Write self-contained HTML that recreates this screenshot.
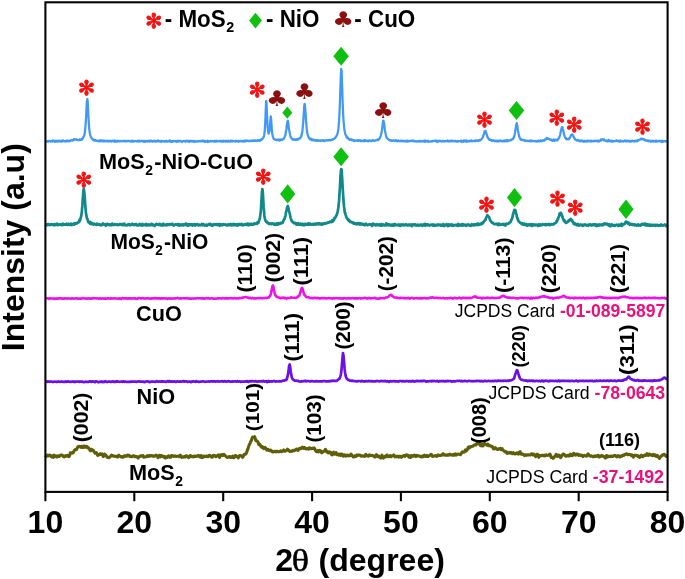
<!DOCTYPE html>
<html lang="en"><head><meta charset="utf-8"><title>XRD patterns</title>
<style>
html,body{margin:0;padding:0;background:#fff;}
svg{display:block;}
text{white-space:pre;}
</style></head>
<body>
<svg width="685" height="579" viewBox="0 0 685 579">
<rect x="0" y="0" width="685" height="579" fill="#ffffff"/>
<path d="M45.4,140.6 L45.8,141.3 L46.1,141.1 L46.5,141.0 L46.8,141.4 L47.2,141.1 L47.5,141.1 L47.9,141.7 L48.2,140.8 L48.6,141.0 L49.0,141.3 L49.3,141.2 L49.7,141.0 L50.0,141.2 L50.4,141.2 L50.7,141.6 L51.1,141.0 L51.4,141.1 L51.8,141.1 L52.2,141.6 L52.5,140.6 L52.9,141.1 L53.2,141.2 L53.6,140.5 L53.9,141.1 L54.3,141.6 L54.6,141.2 L55.0,141.8 L55.4,140.8 L55.7,141.2 L56.1,141.3 L56.4,140.8 L56.8,141.6 L57.1,140.9 L57.5,141.7 L57.8,141.3 L58.2,141.5 L58.6,140.7 L58.9,140.6 L59.3,141.2 L59.6,140.8 L60.0,141.1 L60.3,140.9 L60.7,141.3 L61.0,141.6 L61.4,141.6 L61.8,141.0 L62.1,140.4 L62.5,141.0 L62.8,141.2 L63.2,140.5 L63.5,141.0 L63.9,141.0 L64.2,141.0 L64.6,141.1 L65.0,141.1 L65.3,141.5 L65.7,140.9 L66.0,141.0 L66.4,140.6 L66.7,141.1 L67.1,141.5 L67.4,141.0 L67.8,140.4 L68.2,141.0 L68.5,141.2 L68.9,141.3 L69.2,141.2 L69.6,140.9 L69.9,141.2 L70.3,140.3 L70.6,140.8 L71.0,140.6 L71.4,140.2 L71.7,140.1 L72.1,140.5 L72.4,140.2 L72.8,139.9 L73.1,140.0 L73.5,140.3 L73.8,139.3 L74.2,139.1 L74.6,139.1 L74.9,139.5 L75.3,139.3 L75.6,139.6 L76.0,139.7 L76.3,139.3 L76.7,139.4 L77.0,139.8 L77.4,139.9 L77.8,139.9 L78.1,140.1 L78.5,140.2 L78.8,140.3 L79.2,140.1 L79.5,139.3 L79.9,139.7 L80.2,140.0 L80.6,139.9 L81.0,139.9 L81.3,139.3 L81.7,139.1 L82.0,139.5 L82.4,138.6 L82.7,138.5 L83.1,137.5 L83.4,137.3 L83.8,136.1 L84.2,135.7 L84.5,134.2 L84.9,132.0 L85.2,128.9 L85.6,125.0 L85.9,120.1 L86.3,113.0 L86.6,105.8 L87.0,100.3 L87.4,99.0 L87.7,102.1 L88.1,109.5 L88.4,116.8 L88.8,122.4 L89.1,127.3 L89.5,130.8 L89.8,133.0 L90.2,134.8 L90.6,136.1 L90.9,136.8 L91.3,137.6 L91.6,138.4 L92.0,138.7 L92.3,139.1 L92.7,139.1 L93.0,139.8 L93.4,140.2 L93.8,139.8 L94.1,140.3 L94.5,140.6 L94.8,140.0 L95.2,140.4 L95.5,140.2 L95.9,140.5 L96.2,140.8 L96.6,140.9 L97.0,140.7 L97.3,140.7 L97.7,140.9 L98.0,140.7 L98.4,141.2 L98.7,140.7 L99.1,141.3 L99.4,140.8 L99.8,140.6 L100.2,140.5 L100.5,140.3 L100.9,141.3 L101.2,140.6 L101.6,140.5 L101.9,140.6 L102.3,141.2 L102.6,140.8 L103.0,140.4 L103.4,141.4 L103.7,140.8 L104.1,140.6 L104.4,141.2 L104.8,140.8 L105.1,141.3 L105.5,141.2 L105.8,141.3 L106.2,141.0 L106.6,141.1 L106.9,140.7 L107.3,141.3 L107.6,141.1 L108.0,140.8 L108.3,140.9 L108.7,141.5 L109.0,140.9 L109.4,141.2 L109.8,140.9 L110.1,141.0 L110.5,140.7 L110.8,141.0 L111.2,141.6 L111.5,141.5 L111.9,140.9 L112.2,141.2 L112.6,140.7 L113.0,141.0 L113.3,141.3 L113.7,140.8 L114.0,141.3 L114.4,141.7 L114.7,140.5 L115.1,141.7 L115.4,140.9 L115.8,140.8 L116.2,141.1 L116.5,141.6 L116.9,140.8 L117.2,141.6 L117.6,141.5 L117.9,141.2 L118.3,140.9 L118.6,141.0 L119.0,140.9 L119.4,141.3 L119.7,141.2 L120.1,141.5 L120.4,141.2 L120.8,141.0 L121.1,141.2 L121.5,141.0 L121.8,141.3 L122.2,141.3 L122.6,141.1 L122.9,141.2 L123.3,141.0 L123.6,141.1 L124.0,140.6 L124.3,141.2 L124.7,141.2 L125.0,141.5 L125.4,141.1 L125.8,140.9 L126.1,141.4 L126.5,141.2 L126.8,140.9 L127.2,141.2 L127.5,141.3 L127.9,140.9 L128.2,141.1 L128.6,141.0 L129.0,140.8 L129.3,140.8 L129.7,141.3 L130.0,141.3 L130.4,141.1 L130.7,141.2 L131.1,141.7 L131.4,140.8 L131.8,141.2 L132.2,140.9 L132.5,141.5 L132.9,140.8 L133.2,141.3 L133.6,141.2 L133.9,141.6 L134.3,141.2 L134.6,141.2 L135.0,141.2 L135.4,141.0 L135.7,141.1 L136.1,140.9 L136.4,141.3 L136.8,141.5 L137.1,141.2 L137.5,141.0 L137.8,140.8 L138.2,140.9 L138.6,141.7 L138.9,141.0 L139.3,140.7 L139.6,141.1 L140.0,141.3 L140.3,141.1 L140.7,141.3 L141.0,141.0 L141.4,141.2 L141.8,140.7 L142.1,141.0 L142.5,141.4 L142.8,141.0 L143.2,140.9 L143.5,141.3 L143.9,141.3 L144.2,141.9 L144.6,140.9 L145.0,141.3 L145.3,141.8 L145.7,141.7 L146.0,141.2 L146.4,140.9 L146.7,141.2 L147.1,141.0 L147.4,141.5 L147.8,141.6 L148.2,140.9 L148.5,141.0 L148.9,141.2 L149.2,140.8 L149.6,141.5 L149.9,141.3 L150.3,140.9 L150.6,140.6 L151.0,141.2 L151.4,140.7 L151.7,141.4 L152.1,141.1 L152.4,141.2 L152.8,141.7 L153.1,141.1 L153.5,140.9 L153.8,141.2 L154.2,141.2 L154.6,140.7 L154.9,141.6 L155.3,141.6 L155.6,141.4 L156.0,141.5 L156.3,140.8 L156.7,141.1 L157.0,141.4 L157.4,141.4 L157.8,140.3 L158.1,141.4 L158.5,141.4 L158.8,141.1 L159.2,141.0 L159.5,141.1 L159.9,141.4 L160.2,141.5 L160.6,141.0 L161.0,141.2 L161.3,141.7 L161.7,140.8 L162.0,140.9 L162.4,141.2 L162.7,141.3 L163.1,141.1 L163.4,141.4 L163.8,141.6 L164.2,141.1 L164.5,141.6 L164.9,141.1 L165.2,141.6 L165.6,141.2 L165.9,141.2 L166.3,140.6 L166.6,141.5 L167.0,141.6 L167.4,141.4 L167.7,141.5 L168.1,141.4 L168.4,141.0 L168.8,140.9 L169.1,140.7 L169.5,141.4 L169.8,140.4 L170.2,140.6 L170.6,141.2 L170.9,141.9 L171.3,141.2 L171.6,141.2 L172.0,141.9 L172.3,141.2 L172.7,141.2 L173.0,141.4 L173.4,141.0 L173.8,140.9 L174.1,141.3 L174.5,141.1 L174.8,141.4 L175.2,141.4 L175.5,141.1 L175.9,141.0 L176.2,141.3 L176.6,141.8 L177.0,141.0 L177.3,141.7 L177.7,141.1 L178.0,140.6 L178.4,141.2 L178.7,141.5 L179.1,141.6 L179.4,140.8 L179.8,141.2 L180.2,141.0 L180.5,140.9 L180.9,141.2 L181.2,141.3 L181.6,141.5 L181.9,142.1 L182.3,141.6 L182.6,141.2 L183.0,141.2 L183.4,141.0 L183.7,141.2 L184.1,141.1 L184.4,140.9 L184.8,141.4 L185.1,141.3 L185.5,141.7 L185.8,140.9 L186.2,141.2 L186.6,141.0 L186.9,140.7 L187.3,140.8 L187.6,141.2 L188.0,140.9 L188.3,141.6 L188.7,141.0 L189.0,141.1 L189.4,141.7 L189.8,140.8 L190.1,141.4 L190.5,141.0 L190.8,141.3 L191.2,140.9 L191.5,140.8 L191.9,141.4 L192.2,141.6 L192.6,141.2 L193.0,140.9 L193.3,141.3 L193.7,141.4 L194.0,141.0 L194.4,142.0 L194.7,141.4 L195.1,141.6 L195.4,141.1 L195.8,141.4 L196.2,141.5 L196.5,141.3 L196.9,141.6 L197.2,141.2 L197.6,141.4 L197.9,141.3 L198.3,141.4 L198.6,140.9 L199.0,141.2 L199.4,141.0 L199.7,141.0 L200.1,141.4 L200.4,141.0 L200.8,141.1 L201.1,141.1 L201.5,141.3 L201.8,141.3 L202.2,140.9 L202.5,140.5 L202.9,141.4 L203.3,141.0 L203.6,141.3 L204.0,140.9 L204.3,141.0 L204.7,140.8 L205.0,142.0 L205.4,141.3 L205.7,141.5 L206.1,141.2 L206.5,141.4 L206.8,141.4 L207.2,141.0 L207.5,140.6 L207.9,142.0 L208.2,141.3 L208.6,141.1 L208.9,141.2 L209.3,141.3 L209.7,141.6 L210.0,141.4 L210.4,140.9 L210.7,140.8 L211.1,141.1 L211.4,141.4 L211.8,141.1 L212.1,141.2 L212.5,141.0 L212.9,141.1 L213.2,141.3 L213.6,141.1 L213.9,141.5 L214.3,140.9 L214.6,140.8 L215.0,141.5 L215.3,141.0 L215.7,141.5 L216.1,140.8 L216.4,140.9 L216.8,141.2 L217.1,140.8 L217.5,141.3 L217.8,141.3 L218.2,141.3 L218.5,141.2 L218.9,141.2 L219.3,141.1 L219.6,141.3 L220.0,140.9 L220.3,140.8 L220.7,141.3 L221.0,141.6 L221.4,140.9 L221.7,140.8 L222.1,141.2 L222.5,141.5 L222.8,141.1 L223.2,140.7 L223.5,141.7 L223.9,141.0 L224.2,141.2 L224.6,141.4 L224.9,141.0 L225.3,141.5 L225.7,141.0 L226.0,140.7 L226.4,141.1 L226.7,141.4 L227.1,141.7 L227.4,141.5 L227.8,141.7 L228.1,140.6 L228.5,141.2 L228.9,141.4 L229.2,141.5 L229.6,141.5 L229.9,141.2 L230.3,141.5 L230.6,140.6 L231.0,141.4 L231.3,141.4 L231.7,141.0 L232.1,140.7 L232.4,140.7 L232.8,141.3 L233.1,141.0 L233.5,141.1 L233.8,141.0 L234.2,141.0 L234.5,141.4 L234.9,141.5 L235.3,141.1 L235.6,141.5 L236.0,140.7 L236.3,141.1 L236.7,141.4 L237.0,141.2 L237.4,141.3 L237.7,141.1 L238.1,140.8 L238.5,141.5 L238.8,141.7 L239.2,141.0 L239.5,141.1 L239.9,141.0 L240.2,141.0 L240.6,141.1 L240.9,140.8 L241.3,141.4 L241.7,141.1 L242.0,141.3 L242.4,141.4 L242.7,140.9 L243.1,140.9 L243.4,141.7 L243.8,141.4 L244.1,141.0 L244.5,140.7 L244.9,141.3 L245.2,141.1 L245.6,141.5 L245.9,140.3 L246.3,140.9 L246.6,140.8 L247.0,140.8 L247.3,140.7 L247.7,140.8 L248.1,141.1 L248.4,140.8 L248.8,141.0 L249.1,140.6 L249.5,141.2 L249.8,141.1 L250.2,140.8 L250.5,140.6 L250.9,140.9 L251.3,141.2 L251.6,141.0 L252.0,141.1 L252.3,140.3 L252.7,140.6 L253.0,140.5 L253.4,140.8 L253.7,141.0 L254.1,140.5 L254.5,140.3 L254.8,140.7 L255.2,140.8 L255.5,140.5 L255.9,140.9 L256.2,140.5 L256.6,140.9 L256.9,141.0 L257.3,140.5 L257.7,140.5 L258.0,140.0 L258.4,140.6 L258.7,140.5 L259.1,140.8 L259.4,140.9 L259.8,140.8 L260.1,140.0 L260.5,140.4 L260.9,139.6 L261.2,139.4 L261.6,139.7 L261.9,138.9 L262.3,139.1 L262.6,138.4 L263.0,138.4 L263.3,137.4 L263.7,137.1 L264.1,135.3 L264.4,133.6 L264.8,130.1 L265.1,124.6 L265.5,116.9 L265.8,107.6 L266.2,100.9 L266.5,103.1 L266.9,112.2 L267.3,120.2 L267.6,126.4 L268.0,130.7 L268.3,132.4 L268.7,133.7 L269.0,132.5 L269.4,131.6 L269.7,128.6 L270.1,123.7 L270.5,119.1 L270.8,116.4 L271.2,119.7 L271.5,125.1 L271.9,130.3 L272.2,133.4 L272.6,135.3 L272.9,137.0 L273.3,137.6 L273.7,138.8 L274.0,139.1 L274.4,139.3 L274.7,139.2 L275.1,139.5 L275.4,139.7 L275.8,139.6 L276.1,140.0 L276.5,140.0 L276.9,139.6 L277.2,140.2 L277.6,140.0 L277.9,139.6 L278.3,140.1 L278.6,139.9 L279.0,140.3 L279.3,139.5 L279.7,140.7 L280.1,140.4 L280.4,140.3 L280.8,139.4 L281.1,139.7 L281.5,139.8 L281.8,140.1 L282.2,139.4 L282.5,139.3 L282.9,139.4 L283.3,139.4 L283.6,139.0 L284.0,138.2 L284.3,137.6 L284.7,137.0 L285.0,136.0 L285.4,135.2 L285.7,133.0 L286.1,131.1 L286.5,128.2 L286.8,125.2 L287.2,122.9 L287.5,121.3 L287.9,120.7 L288.2,122.6 L288.6,125.5 L288.9,129.1 L289.3,130.8 L289.7,132.7 L290.0,134.3 L290.4,136.1 L290.7,137.1 L291.1,137.7 L291.4,137.9 L291.8,138.9 L292.1,138.8 L292.5,139.3 L292.9,139.1 L293.2,139.8 L293.6,139.3 L293.9,139.7 L294.3,139.6 L294.6,139.5 L295.0,139.3 L295.3,140.2 L295.7,139.4 L296.1,139.5 L296.4,139.7 L296.8,139.2 L297.1,139.5 L297.5,139.1 L297.8,139.5 L298.2,139.5 L298.5,138.7 L298.9,138.3 L299.3,138.5 L299.6,138.2 L300.0,138.3 L300.3,138.1 L300.7,137.3 L301.0,136.1 L301.4,136.2 L301.7,134.5 L302.1,133.2 L302.5,130.1 L302.8,126.6 L303.2,123.0 L303.5,117.5 L303.9,111.2 L304.2,106.3 L304.6,103.8 L304.9,104.8 L305.3,109.4 L305.7,114.3 L306.0,120.4 L306.4,124.6 L306.7,128.4 L307.1,131.7 L307.4,133.8 L307.8,134.9 L308.1,136.1 L308.5,136.9 L308.9,138.1 L309.2,137.8 L309.6,138.7 L309.9,139.4 L310.3,139.2 L310.6,139.1 L311.0,138.8 L311.3,139.7 L311.7,140.1 L312.1,139.2 L312.4,139.8 L312.8,140.1 L313.1,140.4 L313.5,140.4 L313.8,139.7 L314.2,140.3 L314.5,140.4 L314.9,140.5 L315.3,139.9 L315.6,140.6 L316.0,140.2 L316.3,140.4 L316.7,140.4 L317.0,140.8 L317.4,140.3 L317.7,140.0 L318.1,140.5 L318.5,140.8 L318.8,140.9 L319.2,140.5 L319.5,140.7 L319.9,140.6 L320.2,140.6 L320.6,141.0 L320.9,140.3 L321.3,140.5 L321.7,140.6 L322.0,140.5 L322.4,140.3 L322.7,140.6 L323.1,140.8 L323.4,140.2 L323.8,140.7 L324.1,140.8 L324.5,141.0 L324.9,140.5 L325.2,140.8 L325.6,140.6 L325.9,140.3 L326.3,140.4 L326.6,140.1 L327.0,140.3 L327.3,140.5 L327.7,140.4 L328.1,140.5 L328.4,140.1 L328.8,140.2 L329.1,140.3 L329.5,139.9 L329.8,140.1 L330.2,140.2 L330.5,140.4 L330.9,139.8 L331.3,139.8 L331.6,139.7 L332.0,139.8 L332.3,139.8 L332.7,139.5 L333.0,139.2 L333.4,139.2 L333.7,139.0 L334.1,138.9 L334.5,138.4 L334.8,138.2 L335.2,138.1 L335.5,137.3 L335.9,136.9 L336.2,136.3 L336.6,136.0 L336.9,135.2 L337.3,134.4 L337.7,132.5 L338.0,131.6 L338.4,128.6 L338.7,125.2 L339.1,120.2 L339.4,114.1 L339.8,106.2 L340.1,96.2 L340.5,84.7 L340.9,74.3 L341.2,68.8 L341.6,70.8 L341.9,79.3 L342.3,90.2 L342.6,100.7 L343.0,110.6 L343.3,117.5 L343.7,122.5 L344.1,126.8 L344.4,130.0 L344.8,131.7 L345.1,133.7 L345.5,134.6 L345.8,135.1 L346.2,135.7 L346.5,137.4 L346.9,137.1 L347.3,137.2 L347.6,138.3 L348.0,138.3 L348.3,138.2 L348.7,139.0 L349.0,138.9 L349.4,139.3 L349.7,140.0 L350.1,139.4 L350.5,139.7 L350.8,139.5 L351.2,139.2 L351.5,139.7 L351.9,140.1 L352.2,139.9 L352.6,140.1 L352.9,139.9 L353.3,140.7 L353.7,140.6 L354.0,141.0 L354.4,140.2 L354.7,140.4 L355.1,140.6 L355.4,140.7 L355.8,140.7 L356.1,140.8 L356.5,140.7 L356.9,140.7 L357.2,140.2 L357.6,140.5 L357.9,140.9 L358.3,140.8 L358.6,140.3 L359.0,140.6 L359.3,140.6 L359.7,140.5 L360.1,140.2 L360.4,141.1 L360.8,141.0 L361.1,141.3 L361.5,140.6 L361.8,140.9 L362.2,141.0 L362.5,141.0 L362.9,140.6 L363.3,140.8 L363.6,141.0 L364.0,140.4 L364.3,141.1 L364.7,141.2 L365.0,140.0 L365.4,140.9 L365.7,141.0 L366.1,141.0 L366.5,140.9 L366.8,140.6 L367.2,140.6 L367.5,140.7 L367.9,140.9 L368.2,141.3 L368.6,140.7 L368.9,140.3 L369.3,140.5 L369.7,140.8 L370.0,140.5 L370.4,140.9 L370.7,140.8 L371.1,141.1 L371.4,140.8 L371.8,140.7 L372.1,140.8 L372.5,140.5 L372.9,140.1 L373.2,140.3 L373.6,140.7 L373.9,140.8 L374.3,140.8 L374.6,140.8 L375.0,140.5 L375.3,140.3 L375.7,140.3 L376.1,140.3 L376.4,140.2 L376.8,140.2 L377.1,140.3 L377.5,139.4 L377.8,139.5 L378.2,140.0 L378.5,139.8 L378.9,139.4 L379.3,138.9 L379.6,138.2 L380.0,137.7 L380.3,137.0 L380.7,136.1 L381.0,134.8 L381.4,133.3 L381.7,131.3 L382.1,128.9 L382.5,126.5 L382.8,123.2 L383.2,120.6 L383.5,120.8 L383.9,122.2 L384.2,124.2 L384.6,127.4 L384.9,130.4 L385.3,132.1 L385.7,134.2 L386.0,135.6 L386.4,137.1 L386.7,137.6 L387.1,138.2 L387.4,138.6 L387.8,138.8 L388.1,139.1 L388.5,139.6 L388.9,139.6 L389.2,140.3 L389.6,139.9 L389.9,140.0 L390.3,140.4 L390.6,140.6 L391.0,140.4 L391.3,140.8 L391.7,140.4 L392.1,140.5 L392.4,140.9 L392.8,140.6 L393.1,140.4 L393.5,140.4 L393.8,140.4 L394.2,140.8 L394.5,140.9 L394.9,140.9 L395.3,140.7 L395.6,140.1 L396.0,140.4 L396.3,140.4 L396.7,140.5 L397.0,141.4 L397.4,141.0 L397.7,141.1 L398.1,140.6 L398.5,140.4 L398.8,141.2 L399.2,141.0 L399.5,140.8 L399.9,141.1 L400.2,141.2 L400.6,141.2 L400.9,140.7 L401.3,141.3 L401.7,140.7 L402.0,141.0 L402.4,140.8 L402.7,140.6 L403.1,141.2 L403.4,141.3 L403.8,140.9 L404.1,141.4 L404.5,141.3 L404.9,141.1 L405.2,141.0 L405.6,141.4 L405.9,141.2 L406.3,140.9 L406.6,140.7 L407.0,141.7 L407.3,140.7 L407.7,140.8 L408.1,141.4 L408.4,141.5 L408.8,141.0 L409.1,141.2 L409.5,141.0 L409.8,140.8 L410.2,141.2 L410.5,141.0 L410.9,141.0 L411.3,140.8 L411.6,140.6 L412.0,140.6 L412.3,141.0 L412.7,141.2 L413.0,140.4 L413.4,140.9 L413.7,141.0 L414.1,141.4 L414.5,140.9 L414.8,141.3 L415.2,141.2 L415.5,141.5 L415.9,141.3 L416.2,141.1 L416.6,141.6 L416.9,141.4 L417.3,141.1 L417.7,141.5 L418.0,141.5 L418.4,141.4 L418.7,141.5 L419.1,140.9 L419.4,141.4 L419.8,140.9 L420.1,140.8 L420.5,141.5 L420.9,141.1 L421.2,141.3 L421.6,141.5 L421.9,141.2 L422.3,141.2 L422.6,140.9 L423.0,140.8 L423.3,141.5 L423.7,141.3 L424.1,141.0 L424.4,140.8 L424.8,141.9 L425.1,140.7 L425.5,141.2 L425.8,140.7 L426.2,141.3 L426.5,141.4 L426.9,141.1 L427.3,140.8 L427.6,141.1 L428.0,141.8 L428.3,140.9 L428.7,141.6 L429.0,141.4 L429.4,141.5 L429.7,141.7 L430.1,141.5 L430.5,141.4 L430.8,141.3 L431.2,141.2 L431.5,141.2 L431.9,141.6 L432.2,141.2 L432.6,140.8 L432.9,140.9 L433.3,141.1 L433.7,141.0 L434.0,140.9 L434.4,140.7 L434.7,140.6 L435.1,141.2 L435.4,141.2 L435.8,140.7 L436.1,140.7 L436.5,140.7 L436.9,141.9 L437.2,141.2 L437.6,142.1 L437.9,140.9 L438.3,141.1 L438.6,141.1 L439.0,141.2 L439.3,140.7 L439.7,141.2 L440.1,140.8 L440.4,141.0 L440.8,141.0 L441.1,141.0 L441.5,141.1 L441.8,141.5 L442.2,140.9 L442.5,140.9 L442.9,141.2 L443.3,140.9 L443.6,140.9 L444.0,141.5 L444.3,141.2 L444.7,141.3 L445.0,141.4 L445.4,141.0 L445.7,141.4 L446.1,141.3 L446.5,141.1 L446.8,141.0 L447.2,141.0 L447.5,140.5 L447.9,141.3 L448.2,141.1 L448.6,141.5 L448.9,141.0 L449.3,140.8 L449.7,140.8 L450.0,141.3 L450.4,141.2 L450.7,140.8 L451.1,141.2 L451.4,140.8 L451.8,141.4 L452.1,140.7 L452.5,140.8 L452.9,141.0 L453.2,141.4 L453.6,141.2 L453.9,141.1 L454.3,141.0 L454.6,141.2 L455.0,141.2 L455.3,141.1 L455.7,140.7 L456.1,141.7 L456.4,141.5 L456.8,141.6 L457.1,141.3 L457.5,141.6 L457.8,141.0 L458.2,141.1 L458.5,141.2 L458.9,141.3 L459.3,141.1 L459.6,141.1 L460.0,141.0 L460.3,141.3 L460.7,140.9 L461.0,141.6 L461.4,140.7 L461.7,142.0 L462.1,141.3 L462.5,141.5 L462.8,140.9 L463.2,141.5 L463.5,140.5 L463.9,141.6 L464.2,140.5 L464.6,141.0 L464.9,141.1 L465.3,141.0 L465.7,140.4 L466.0,140.8 L466.4,141.8 L466.7,140.7 L467.1,141.0 L467.4,141.6 L467.8,140.8 L468.1,141.4 L468.5,141.0 L468.9,141.0 L469.2,141.2 L469.6,140.8 L469.9,141.3 L470.3,141.0 L470.6,141.2 L471.0,141.1 L471.3,140.4 L471.7,141.0 L472.1,141.3 L472.4,141.0 L472.8,141.2 L473.1,140.9 L473.5,140.9 L473.8,140.9 L474.2,140.9 L474.5,141.1 L474.9,140.7 L475.3,140.5 L475.6,141.0 L476.0,140.8 L476.3,140.8 L476.7,140.4 L477.0,140.4 L477.4,140.9 L477.7,140.6 L478.1,141.0 L478.5,140.8 L478.8,140.5 L479.2,140.2 L479.5,140.0 L479.9,140.3 L480.2,140.5 L480.6,139.8 L480.9,139.8 L481.3,139.3 L481.7,139.1 L482.0,138.5 L482.4,137.9 L482.7,137.2 L483.1,136.8 L483.4,135.3 L483.8,134.6 L484.1,133.2 L484.5,131.5 L484.9,131.1 L485.2,131.3 L485.6,130.8 L485.9,131.8 L486.3,132.9 L486.6,134.4 L487.0,135.5 L487.3,136.7 L487.7,137.7 L488.1,137.7 L488.4,138.8 L488.8,139.2 L489.1,139.6 L489.5,139.1 L489.8,139.6 L490.2,140.2 L490.5,140.2 L490.9,140.1 L491.3,140.1 L491.6,140.9 L492.0,140.2 L492.3,140.6 L492.7,140.8 L493.0,140.8 L493.4,140.4 L493.7,140.2 L494.1,140.7 L494.5,140.6 L494.8,141.0 L495.2,140.7 L495.5,140.6 L495.9,141.3 L496.2,141.0 L496.6,140.6 L496.9,141.4 L497.3,141.0 L497.7,140.7 L498.0,141.4 L498.4,141.0 L498.7,140.9 L499.1,140.6 L499.4,141.3 L499.8,140.6 L500.1,140.8 L500.5,140.5 L500.9,140.6 L501.2,140.8 L501.6,140.8 L501.9,141.4 L502.3,141.3 L502.6,141.2 L503.0,141.0 L503.3,140.6 L503.7,141.4 L504.1,141.0 L504.4,141.2 L504.8,141.3 L505.1,140.4 L505.5,140.8 L505.8,140.3 L506.2,140.4 L506.5,141.0 L506.9,141.3 L507.3,140.1 L507.6,140.8 L508.0,141.0 L508.3,140.4 L508.7,140.5 L509.0,140.7 L509.4,140.6 L509.7,140.3 L510.1,140.3 L510.5,140.0 L510.8,140.2 L511.2,140.1 L511.5,139.7 L511.9,139.6 L512.2,139.1 L512.6,139.3 L512.9,138.9 L513.3,138.7 L513.6,137.3 L514.0,137.3 L514.4,135.6 L514.7,134.5 L515.1,132.2 L515.4,129.7 L515.8,127.9 L516.1,125.2 L516.5,124.2 L516.8,123.2 L517.2,125.2 L517.6,127.9 L517.9,130.2 L518.3,131.9 L518.6,133.7 L519.0,135.3 L519.3,137.1 L519.7,137.8 L520.0,137.9 L520.4,139.1 L520.8,139.3 L521.1,139.8 L521.5,140.1 L521.8,139.5 L522.2,139.8 L522.5,140.0 L522.9,140.1 L523.2,140.0 L523.6,139.9 L524.0,140.5 L524.3,140.6 L524.7,140.9 L525.0,140.3 L525.4,140.8 L525.7,141.1 L526.1,140.8 L526.4,140.7 L526.8,140.5 L527.2,140.5 L527.5,141.0 L527.9,141.1 L528.2,140.9 L528.6,141.2 L528.9,140.9 L529.3,140.7 L529.6,140.9 L530.0,141.4 L530.4,141.3 L530.7,140.5 L531.1,141.2 L531.4,140.7 L531.8,140.7 L532.1,141.0 L532.5,141.2 L532.8,140.9 L533.2,141.2 L533.6,141.0 L533.9,140.9 L534.3,141.2 L534.6,141.0 L535.0,141.0 L535.3,141.3 L535.7,141.0 L536.0,141.1 L536.4,141.5 L536.8,141.0 L537.1,141.0 L537.5,141.1 L537.8,141.5 L538.2,140.7 L538.5,140.7 L538.9,140.7 L539.2,140.8 L539.6,141.3 L540.0,140.8 L540.3,141.1 L540.7,140.2 L541.0,141.0 L541.4,140.6 L541.7,141.2 L542.1,141.1 L542.4,140.8 L542.8,140.4 L543.2,140.4 L543.5,140.4 L543.9,140.9 L544.2,139.9 L544.6,140.4 L544.9,139.4 L545.3,139.2 L545.6,139.2 L546.0,138.9 L546.4,139.3 L546.7,137.9 L547.1,138.4 L547.4,138.1 L547.8,138.6 L548.1,138.5 L548.5,139.0 L548.8,139.0 L549.2,139.2 L549.6,139.3 L549.9,139.2 L550.3,139.7 L550.6,139.9 L551.0,140.1 L551.3,139.6 L551.7,140.4 L552.0,140.0 L552.4,140.9 L552.8,140.6 L553.1,140.3 L553.5,140.4 L553.8,139.5 L554.2,139.6 L554.5,140.8 L554.9,140.6 L555.2,140.3 L555.6,139.6 L556.0,139.7 L556.3,139.9 L556.7,140.3 L557.0,140.0 L557.4,140.4 L557.7,139.8 L558.1,138.9 L558.4,138.5 L558.8,138.6 L559.2,137.6 L559.5,136.3 L559.9,135.7 L560.2,134.5 L560.6,132.6 L560.9,130.9 L561.3,129.2 L561.6,127.9 L562.0,127.1 L562.4,127.2 L562.7,128.5 L563.1,129.7 L563.4,131.6 L563.8,133.2 L564.1,134.4 L564.5,135.6 L564.8,136.6 L565.2,137.6 L565.6,138.3 L565.9,137.9 L566.3,139.1 L566.6,139.2 L567.0,139.4 L567.3,139.2 L567.7,139.1 L568.0,138.9 L568.4,139.1 L568.8,139.4 L569.1,138.5 L569.5,138.0 L569.8,137.8 L570.2,137.3 L570.5,136.4 L570.9,135.4 L571.2,135.1 L571.6,134.9 L572.0,134.4 L572.3,134.4 L572.7,135.4 L573.0,135.3 L573.4,136.6 L573.7,137.0 L574.1,137.8 L574.4,138.5 L574.8,138.4 L575.2,139.5 L575.5,139.8 L575.9,139.7 L576.2,139.8 L576.6,140.2 L576.9,140.6 L577.3,140.2 L577.6,140.3 L578.0,139.9 L578.4,140.6 L578.7,140.6 L579.1,140.8 L579.4,141.2 L579.8,140.7 L580.1,140.5 L580.5,141.1 L580.8,141.0 L581.2,141.2 L581.6,140.5 L581.9,141.1 L582.3,140.7 L582.6,141.2 L583.0,140.9 L583.3,141.1 L583.7,141.7 L584.0,140.9 L584.4,140.8 L584.8,141.6 L585.1,141.0 L585.5,141.1 L585.8,141.3 L586.2,141.1 L586.5,141.6 L586.9,140.9 L587.2,140.6 L587.6,141.4 L588.0,141.0 L588.3,140.6 L588.7,141.0 L589.0,141.2 L589.4,141.3 L589.7,141.0 L590.1,141.1 L590.4,140.8 L590.8,141.5 L591.2,140.7 L591.5,141.2 L591.9,140.8 L592.2,141.3 L592.6,141.4 L592.9,141.2 L593.3,141.3 L593.6,141.1 L594.0,140.8 L594.4,140.7 L594.7,141.0 L595.1,141.2 L595.4,141.1 L595.8,140.8 L596.1,140.6 L596.5,141.1 L596.8,141.0 L597.2,141.2 L597.6,140.8 L597.9,140.6 L598.3,141.7 L598.6,140.7 L599.0,140.9 L599.3,141.4 L599.7,140.5 L600.0,140.5 L600.4,140.2 L600.8,140.6 L601.1,139.4 L601.5,139.9 L601.8,139.8 L602.2,139.2 L602.5,139.3 L602.9,139.3 L603.2,139.3 L603.6,140.4 L604.0,139.4 L604.3,140.2 L604.7,140.1 L605.0,140.1 L605.4,140.7 L605.7,140.5 L606.1,140.5 L606.4,140.8 L606.8,140.7 L607.2,141.3 L607.5,141.3 L607.9,141.3 L608.2,140.8 L608.6,139.8 L608.9,140.9 L609.3,141.1 L609.6,141.0 L610.0,140.7 L610.4,140.8 L610.7,141.4 L611.1,140.7 L611.4,141.1 L611.8,140.8 L612.1,141.7 L612.5,141.6 L612.8,140.9 L613.2,141.6 L613.6,141.0 L613.9,141.0 L614.3,141.1 L614.6,141.0 L615.0,141.0 L615.3,141.0 L615.7,141.2 L616.0,141.1 L616.4,140.2 L616.8,140.8 L617.1,140.9 L617.5,141.0 L617.8,141.3 L618.2,141.0 L618.5,141.2 L618.9,140.8 L619.2,141.4 L619.6,141.8 L620.0,141.3 L620.3,140.9 L620.7,140.4 L621.0,140.8 L621.4,141.4 L621.7,141.2 L622.1,141.4 L622.4,141.2 L622.8,141.4 L623.2,141.6 L623.5,141.0 L623.9,141.1 L624.2,141.2 L624.6,141.0 L624.9,140.5 L625.3,141.1 L625.6,141.2 L626.0,140.8 L626.4,141.6 L626.7,140.9 L627.1,141.3 L627.4,141.3 L627.8,141.1 L628.1,140.6 L628.5,141.3 L628.8,140.8 L629.2,141.0 L629.6,141.5 L629.9,140.8 L630.3,141.3 L630.6,141.5 L631.0,141.3 L631.3,141.3 L631.7,140.9 L632.0,141.2 L632.4,140.6 L632.8,140.9 L633.1,141.2 L633.5,141.2 L633.8,140.9 L634.2,141.6 L634.5,141.6 L634.9,141.2 L635.2,140.7 L635.6,140.8 L636.0,140.8 L636.3,140.8 L636.7,141.3 L637.0,140.7 L637.4,141.1 L637.7,140.2 L638.1,140.3 L638.4,140.3 L638.8,140.0 L639.2,139.8 L639.5,139.7 L639.9,139.5 L640.2,139.6 L640.6,139.6 L640.9,139.0 L641.3,138.5 L641.6,138.6 L642.0,139.0 L642.4,138.8 L642.7,139.2 L643.1,139.1 L643.4,139.6 L643.8,139.5 L644.1,139.2 L644.5,139.7 L644.8,139.6 L645.2,140.5 L645.6,140.6 L645.9,140.5 L646.3,140.4 L646.6,140.7 L647.0,140.4 L647.3,140.9 L647.7,140.4 L648.0,140.5 L648.4,141.2 L648.8,140.7 L649.1,141.0 L649.5,140.6 L649.8,141.1 L650.2,140.9 L650.5,140.8 L650.9,141.8 L651.2,141.6 L651.6,141.0 L652.0,141.1 L652.3,140.7 L652.7,141.0 L653.0,141.5 L653.4,141.0 L653.7,141.3 L654.1,141.2 L654.4,141.2 L654.8,141.0 L655.2,141.5 L655.5,141.4 L655.9,141.8 L656.2,140.5 L656.6,141.4 L656.9,141.4 L657.3,141.5 L657.6,141.3 L658.0,141.3 L658.4,140.9 L658.7,141.1 L659.1,141.0 L659.4,141.3 L659.8,141.2 L660.1,140.8 L660.5,141.1 L660.8,141.1 L661.2,141.8 L661.6,141.0 L661.9,141.1 L662.3,140.8 L662.6,142.0 L663.0,141.1 L663.3,141.2 L663.7,141.1 L664.0,141.3 L664.4,141.1 L664.8,140.9 L665.1,141.1 L665.5,141.3 L665.8,141.2 L666.2,141.3 L666.5,141.2 L666.9,141.4 L667.2,141.8 L667.6,140.8" fill="none" stroke="#4199f5" stroke-width="2.25" stroke-linejoin="round" stroke-linecap="butt"/>
<path d="M45.4,224.6 L45.8,225.1 L46.1,224.7 L46.5,225.0 L46.8,224.6 L47.2,224.9 L47.5,225.1 L47.9,224.4 L48.2,224.0 L48.6,224.4 L49.0,224.5 L49.3,225.0 L49.7,224.6 L50.0,224.4 L50.4,224.8 L50.7,224.2 L51.1,224.6 L51.4,224.4 L51.8,224.8 L52.2,224.8 L52.5,224.5 L52.9,224.4 L53.2,224.4 L53.6,225.0 L53.9,224.8 L54.3,224.5 L54.6,225.3 L55.0,224.1 L55.4,224.4 L55.7,224.5 L56.1,224.8 L56.4,224.2 L56.8,224.6 L57.1,223.7 L57.5,224.4 L57.8,225.2 L58.2,224.2 L58.6,224.7 L58.9,224.7 L59.3,224.6 L59.6,224.6 L60.0,224.4 L60.3,224.2 L60.7,224.3 L61.0,224.8 L61.4,225.1 L61.8,224.8 L62.1,224.3 L62.5,224.1 L62.8,223.7 L63.2,225.0 L63.5,224.4 L63.9,224.6 L64.2,224.6 L64.6,224.4 L65.0,224.5 L65.3,224.5 L65.7,224.7 L66.0,224.2 L66.4,224.0 L66.7,223.7 L67.1,224.6 L67.4,224.8 L67.8,224.5 L68.2,224.7 L68.5,223.9 L68.9,224.7 L69.2,224.3 L69.6,224.9 L69.9,224.4 L70.3,224.2 L70.6,223.6 L71.0,224.5 L71.4,224.0 L71.7,225.0 L72.1,224.6 L72.4,224.4 L72.8,224.3 L73.1,223.8 L73.5,223.7 L73.8,224.6 L74.2,223.7 L74.6,224.3 L74.9,223.0 L75.3,223.6 L75.6,223.6 L76.0,223.6 L76.3,223.4 L76.7,223.3 L77.0,223.4 L77.4,222.7 L77.8,222.7 L78.1,222.3 L78.5,222.4 L78.8,221.7 L79.2,221.9 L79.5,219.6 L79.9,220.8 L80.2,219.9 L80.6,218.2 L81.0,216.6 L81.3,215.4 L81.7,213.1 L82.0,209.6 L82.4,205.2 L82.7,200.3 L83.1,195.0 L83.4,190.5 L83.8,188.9 L84.2,191.2 L84.5,194.7 L84.9,199.6 L85.2,204.2 L85.6,209.1 L85.9,212.8 L86.3,214.8 L86.6,216.5 L87.0,218.8 L87.4,218.9 L87.7,219.8 L88.1,221.3 L88.4,222.3 L88.8,222.3 L89.1,222.5 L89.5,222.4 L89.8,223.5 L90.2,222.0 L90.6,222.2 L90.9,223.6 L91.3,224.2 L91.6,223.6 L92.0,223.5 L92.3,223.2 L92.7,223.5 L93.0,223.9 L93.4,224.7 L93.8,223.8 L94.1,223.7 L94.5,224.2 L94.8,224.0 L95.2,224.0 L95.5,224.3 L95.9,224.7 L96.2,224.1 L96.6,224.8 L97.0,223.7 L97.3,224.7 L97.7,224.1 L98.0,224.6 L98.4,224.2 L98.7,224.5 L99.1,224.2 L99.4,224.7 L99.8,225.1 L100.2,224.5 L100.5,224.6 L100.9,225.1 L101.2,224.7 L101.6,225.2 L101.9,224.4 L102.3,224.6 L102.6,224.5 L103.0,223.4 L103.4,224.4 L103.7,224.4 L104.1,224.3 L104.4,224.6 L104.8,224.8 L105.1,224.2 L105.5,224.1 L105.8,225.8 L106.2,224.6 L106.6,224.7 L106.9,224.8 L107.3,224.0 L107.6,224.8 L108.0,224.2 L108.3,224.8 L108.7,224.8 L109.0,224.3 L109.4,224.9 L109.8,224.7 L110.1,225.1 L110.5,225.0 L110.8,224.3 L111.2,224.4 L111.5,225.1 L111.9,225.1 L112.2,223.5 L112.6,224.9 L113.0,225.0 L113.3,224.4 L113.7,225.0 L114.0,224.8 L114.4,224.3 L114.7,224.2 L115.1,224.7 L115.4,224.1 L115.8,224.7 L116.2,224.7 L116.5,224.6 L116.9,224.8 L117.2,224.4 L117.6,224.5 L117.9,225.0 L118.3,224.6 L118.6,224.9 L119.0,224.9 L119.4,224.7 L119.7,224.2 L120.1,224.5 L120.4,224.1 L120.8,224.0 L121.1,224.7 L121.5,224.9 L121.8,225.0 L122.2,224.6 L122.6,224.3 L122.9,224.0 L123.3,225.2 L123.6,224.3 L124.0,224.2 L124.3,223.6 L124.7,224.6 L125.0,224.7 L125.4,225.3 L125.8,225.0 L126.1,225.1 L126.5,225.1 L126.8,225.1 L127.2,225.3 L127.5,224.7 L127.9,224.5 L128.2,224.4 L128.6,224.7 L129.0,224.2 L129.3,224.2 L129.7,225.3 L130.0,224.8 L130.4,225.2 L130.7,225.1 L131.1,224.6 L131.4,224.7 L131.8,224.1 L132.2,223.8 L132.5,224.5 L132.9,224.8 L133.2,224.8 L133.6,224.7 L133.9,224.5 L134.3,225.0 L134.6,224.5 L135.0,224.8 L135.4,224.3 L135.7,224.1 L136.1,224.0 L136.4,224.8 L136.8,225.3 L137.1,225.4 L137.5,224.8 L137.8,225.3 L138.2,225.4 L138.6,224.9 L138.9,225.1 L139.3,224.4 L139.6,223.9 L140.0,224.8 L140.3,224.6 L140.7,225.4 L141.0,224.6 L141.4,225.0 L141.8,225.2 L142.1,225.5 L142.5,224.0 L142.8,225.4 L143.2,225.2 L143.5,224.7 L143.9,224.6 L144.2,224.6 L144.6,224.7 L145.0,225.1 L145.3,224.4 L145.7,224.6 L146.0,225.3 L146.4,224.0 L146.7,224.9 L147.1,224.3 L147.4,225.3 L147.8,225.2 L148.2,225.0 L148.5,225.0 L148.9,224.3 L149.2,225.4 L149.6,224.6 L149.9,225.1 L150.3,224.5 L150.6,224.6 L151.0,224.9 L151.4,223.8 L151.7,224.7 L152.1,224.3 L152.4,225.3 L152.8,224.8 L153.1,224.7 L153.5,224.7 L153.8,224.9 L154.2,225.1 L154.6,226.0 L154.9,225.0 L155.3,225.1 L155.6,224.8 L156.0,224.4 L156.3,223.8 L156.7,224.5 L157.0,224.3 L157.4,224.5 L157.8,224.4 L158.1,224.5 L158.5,224.8 L158.8,224.9 L159.2,224.6 L159.5,224.0 L159.9,224.4 L160.2,224.0 L160.6,225.3 L161.0,224.6 L161.3,224.6 L161.7,224.5 L162.0,225.3 L162.4,225.5 L162.7,225.6 L163.1,224.9 L163.4,223.7 L163.8,224.6 L164.2,225.2 L164.5,224.6 L164.9,224.8 L165.2,224.7 L165.6,224.9 L165.9,225.3 L166.3,224.9 L166.6,224.4 L167.0,224.6 L167.4,224.2 L167.7,225.2 L168.1,224.3 L168.4,224.7 L168.8,224.6 L169.1,224.2 L169.5,224.8 L169.8,224.6 L170.2,224.5 L170.6,224.4 L170.9,224.4 L171.3,224.2 L171.6,224.5 L172.0,224.9 L172.3,223.7 L172.7,224.7 L173.0,224.6 L173.4,225.0 L173.8,225.6 L174.1,225.0 L174.5,224.7 L174.8,224.5 L175.2,224.7 L175.5,224.4 L175.9,224.3 L176.2,224.3 L176.6,224.7 L177.0,224.7 L177.3,224.8 L177.7,225.1 L178.0,224.1 L178.4,225.2 L178.7,224.7 L179.1,224.6 L179.4,225.6 L179.8,224.4 L180.2,224.9 L180.5,224.6 L180.9,224.9 L181.2,225.4 L181.6,224.6 L181.9,224.7 L182.3,224.3 L182.6,224.5 L183.0,225.4 L183.4,224.3 L183.7,224.4 L184.1,224.4 L184.4,224.5 L184.8,225.0 L185.1,224.5 L185.5,224.9 L185.8,223.5 L186.2,224.8 L186.6,225.2 L186.9,224.9 L187.3,224.1 L187.6,225.0 L188.0,225.8 L188.3,224.1 L188.7,224.6 L189.0,224.9 L189.4,224.4 L189.8,225.1 L190.1,225.2 L190.5,224.3 L190.8,224.9 L191.2,224.5 L191.5,224.7 L191.9,224.4 L192.2,224.7 L192.6,225.6 L193.0,224.4 L193.3,224.9 L193.7,224.4 L194.0,224.7 L194.4,224.1 L194.7,224.9 L195.1,225.6 L195.4,224.9 L195.8,224.5 L196.2,224.9 L196.5,224.9 L196.9,224.1 L197.2,224.8 L197.6,224.3 L197.9,224.7 L198.3,225.3 L198.6,225.1 L199.0,224.9 L199.4,224.6 L199.7,225.1 L200.1,225.3 L200.4,225.2 L200.8,225.0 L201.1,225.1 L201.5,225.0 L201.8,224.0 L202.2,224.6 L202.5,225.1 L202.9,224.7 L203.3,224.1 L203.6,224.5 L204.0,224.8 L204.3,225.3 L204.7,225.5 L205.0,224.9 L205.4,224.8 L205.7,225.4 L206.1,225.3 L206.5,224.8 L206.8,225.7 L207.2,225.5 L207.5,224.8 L207.9,224.5 L208.2,224.6 L208.6,224.3 L208.9,224.1 L209.3,224.4 L209.7,224.9 L210.0,223.8 L210.4,224.0 L210.7,224.3 L211.1,225.1 L211.4,224.6 L211.8,225.6 L212.1,224.9 L212.5,225.8 L212.9,224.9 L213.2,224.3 L213.6,224.7 L213.9,224.1 L214.3,224.7 L214.6,224.7 L215.0,224.9 L215.3,224.5 L215.7,224.7 L216.1,224.2 L216.4,224.1 L216.8,224.6 L217.1,225.2 L217.5,224.5 L217.8,224.2 L218.2,224.5 L218.5,224.6 L218.9,224.3 L219.3,224.2 L219.6,225.8 L220.0,224.1 L220.3,224.4 L220.7,224.5 L221.0,225.0 L221.4,224.6 L221.7,224.5 L222.1,225.3 L222.5,224.4 L222.8,224.7 L223.2,224.1 L223.5,224.4 L223.9,224.8 L224.2,224.7 L224.6,224.4 L224.9,224.7 L225.3,224.5 L225.7,225.0 L226.0,225.2 L226.4,225.0 L226.7,225.3 L227.1,225.0 L227.4,224.6 L227.8,225.4 L228.1,225.2 L228.5,224.4 L228.9,224.9 L229.2,224.7 L229.6,225.2 L229.9,225.1 L230.3,224.8 L230.6,224.0 L231.0,224.5 L231.3,225.4 L231.7,224.5 L232.1,224.3 L232.4,224.4 L232.8,225.2 L233.1,224.7 L233.5,223.8 L233.8,225.1 L234.2,224.6 L234.5,225.0 L234.9,225.2 L235.3,224.9 L235.6,224.3 L236.0,224.2 L236.3,225.1 L236.7,224.9 L237.0,225.1 L237.4,225.6 L237.7,224.4 L238.1,224.0 L238.5,224.0 L238.8,224.9 L239.2,224.1 L239.5,224.2 L239.9,224.8 L240.2,224.7 L240.6,224.8 L240.9,224.5 L241.3,223.9 L241.7,225.0 L242.0,225.1 L242.4,224.3 L242.7,224.6 L243.1,225.4 L243.4,225.0 L243.8,225.0 L244.1,224.9 L244.5,224.5 L244.9,224.2 L245.2,224.6 L245.6,224.5 L245.9,224.9 L246.3,224.1 L246.6,224.0 L247.0,224.6 L247.3,224.8 L247.7,223.6 L248.1,224.1 L248.4,224.9 L248.8,225.2 L249.1,224.6 L249.5,223.9 L249.8,224.7 L250.2,224.5 L250.5,224.6 L250.9,224.1 L251.3,223.8 L251.6,224.9 L252.0,224.4 L252.3,224.3 L252.7,224.5 L253.0,224.7 L253.4,223.8 L253.7,224.0 L254.1,223.7 L254.5,223.3 L254.8,224.1 L255.2,223.6 L255.5,223.9 L255.9,223.7 L256.2,223.4 L256.6,223.4 L256.9,223.8 L257.3,222.3 L257.7,222.7 L258.0,222.9 L258.4,222.9 L258.7,221.5 L259.1,220.6 L259.4,219.5 L259.8,218.1 L260.1,216.8 L260.5,213.6 L260.9,210.6 L261.2,204.7 L261.6,198.2 L261.9,192.7 L262.3,189.0 L262.6,190.1 L263.0,195.3 L263.3,201.1 L263.7,207.9 L264.1,211.5 L264.4,215.9 L264.8,217.9 L265.1,219.6 L265.5,220.4 L265.8,221.3 L266.2,221.5 L266.5,222.1 L266.9,221.6 L267.3,222.6 L267.6,223.1 L268.0,223.0 L268.3,223.1 L268.7,223.5 L269.0,224.0 L269.4,224.0 L269.7,223.6 L270.1,223.4 L270.5,223.6 L270.8,223.9 L271.2,223.7 L271.5,224.2 L271.9,223.9 L272.2,223.4 L272.6,223.5 L272.9,223.5 L273.3,224.2 L273.7,224.0 L274.0,224.5 L274.4,223.7 L274.7,224.2 L275.1,224.6 L275.4,224.2 L275.8,223.9 L276.1,224.9 L276.5,224.6 L276.9,223.5 L277.2,223.9 L277.6,223.9 L277.9,224.5 L278.3,223.1 L278.6,223.3 L279.0,223.4 L279.3,224.1 L279.7,223.3 L280.1,223.0 L280.4,223.5 L280.8,223.3 L281.1,223.3 L281.5,222.7 L281.8,222.8 L282.2,222.6 L282.5,222.8 L282.9,222.5 L283.3,221.0 L283.6,220.2 L284.0,219.8 L284.3,218.8 L284.7,218.6 L285.0,217.2 L285.4,215.6 L285.7,214.2 L286.1,211.6 L286.5,210.9 L286.8,208.8 L287.2,207.3 L287.5,206.6 L287.9,205.9 L288.2,207.9 L288.6,208.1 L288.9,210.0 L289.3,212.1 L289.7,213.5 L290.0,214.7 L290.4,217.1 L290.7,218.1 L291.1,219.2 L291.4,220.0 L291.8,221.1 L292.1,221.7 L292.5,221.6 L292.9,222.4 L293.2,222.1 L293.6,222.4 L293.9,223.1 L294.3,223.0 L294.6,223.2 L295.0,223.4 L295.3,223.0 L295.7,223.6 L296.1,223.6 L296.4,224.6 L296.8,223.5 L297.1,224.5 L297.5,224.1 L297.8,223.3 L298.2,223.2 L298.5,224.2 L298.9,224.6 L299.3,223.9 L299.6,224.3 L300.0,224.0 L300.3,224.7 L300.7,223.7 L301.0,223.6 L301.4,224.8 L301.7,224.6 L302.1,224.6 L302.5,224.0 L302.8,225.1 L303.2,224.2 L303.5,224.4 L303.9,224.6 L304.2,224.0 L304.6,225.2 L304.9,224.9 L305.3,224.7 L305.7,224.0 L306.0,224.5 L306.4,224.7 L306.7,224.2 L307.1,224.6 L307.4,224.6 L307.8,224.5 L308.1,224.2 L308.5,223.2 L308.9,224.8 L309.2,224.2 L309.6,224.4 L309.9,224.5 L310.3,223.7 L310.6,224.0 L311.0,224.1 L311.3,224.5 L311.7,224.7 L312.1,224.2 L312.4,224.4 L312.8,224.5 L313.1,224.0 L313.5,224.8 L313.8,224.6 L314.2,223.9 L314.5,224.3 L314.9,224.0 L315.3,224.6 L315.6,223.9 L316.0,224.5 L316.3,223.6 L316.7,223.9 L317.0,224.0 L317.4,223.5 L317.7,224.0 L318.1,224.4 L318.5,223.5 L318.8,223.9 L319.2,223.6 L319.5,224.0 L319.9,223.5 L320.2,224.4 L320.6,224.5 L320.9,224.5 L321.3,223.6 L321.7,224.7 L322.0,224.6 L322.4,224.4 L322.7,223.7 L323.1,223.6 L323.4,224.1 L323.8,223.3 L324.1,223.5 L324.5,223.1 L324.9,223.1 L325.2,223.7 L325.6,223.3 L325.9,223.4 L326.3,223.1 L326.6,223.1 L327.0,223.1 L327.3,222.7 L327.7,222.9 L328.1,222.5 L328.4,222.7 L328.8,222.7 L329.1,222.1 L329.5,221.9 L329.8,221.7 L330.2,221.8 L330.5,222.0 L330.9,221.6 L331.3,221.4 L331.6,222.0 L332.0,221.6 L332.3,220.2 L332.7,220.6 L333.0,221.5 L333.4,220.0 L333.7,219.6 L334.1,219.8 L334.5,217.9 L334.8,217.9 L335.2,217.6 L335.5,217.5 L335.9,216.5 L336.2,215.7 L336.6,215.0 L336.9,214.5 L337.3,212.9 L337.7,211.5 L338.0,209.5 L338.4,207.6 L338.7,204.0 L339.1,200.2 L339.4,195.3 L339.8,189.5 L340.1,183.8 L340.5,176.3 L340.9,170.9 L341.2,169.1 L341.6,169.6 L341.9,174.3 L342.3,180.4 L342.6,186.5 L343.0,192.9 L343.3,197.7 L343.7,202.9 L344.1,207.0 L344.4,209.3 L344.8,212.5 L345.1,212.5 L345.5,214.4 L345.8,215.5 L346.2,216.5 L346.5,217.7 L346.9,218.0 L347.3,218.9 L347.6,219.2 L348.0,219.3 L348.3,220.4 L348.7,219.5 L349.0,221.0 L349.4,220.5 L349.7,221.4 L350.1,221.9 L350.5,221.4 L350.8,221.7 L351.2,222.1 L351.5,222.2 L351.9,222.6 L352.2,222.3 L352.6,222.8 L352.9,222.7 L353.3,222.4 L353.7,223.5 L354.0,223.3 L354.4,223.4 L354.7,223.6 L355.1,223.9 L355.4,223.5 L355.8,223.4 L356.1,223.6 L356.5,224.3 L356.9,223.4 L357.2,223.4 L357.6,223.7 L357.9,224.2 L358.3,224.2 L358.6,223.1 L359.0,223.2 L359.3,223.8 L359.7,224.4 L360.1,223.5 L360.4,224.0 L360.8,223.4 L361.1,224.4 L361.5,224.0 L361.8,224.3 L362.2,223.9 L362.5,224.5 L362.9,223.9 L363.3,224.5 L363.6,224.7 L364.0,224.1 L364.3,224.3 L364.7,225.3 L365.0,224.4 L365.4,224.4 L365.7,224.4 L366.1,223.6 L366.5,224.7 L366.8,224.5 L367.2,225.2 L367.5,225.1 L367.9,224.8 L368.2,224.6 L368.6,224.6 L368.9,224.3 L369.3,224.3 L369.7,224.1 L370.0,224.7 L370.4,224.4 L370.7,224.9 L371.1,224.5 L371.4,224.4 L371.8,224.8 L372.1,226.0 L372.5,224.9 L372.9,223.6 L373.2,224.7 L373.6,224.9 L373.9,224.6 L374.3,224.2 L374.6,224.6 L375.0,224.8 L375.3,225.2 L375.7,224.8 L376.1,225.2 L376.4,224.6 L376.8,224.1 L377.1,224.3 L377.5,225.0 L377.8,225.2 L378.2,225.3 L378.5,224.6 L378.9,224.5 L379.3,224.4 L379.6,224.6 L380.0,225.3 L380.3,225.6 L380.7,224.3 L381.0,225.1 L381.4,224.0 L381.7,225.7 L382.1,225.3 L382.5,225.2 L382.8,224.7 L383.2,224.5 L383.5,225.1 L383.9,224.6 L384.2,225.4 L384.6,225.0 L384.9,225.3 L385.3,225.1 L385.7,225.1 L386.0,224.7 L386.4,223.4 L386.7,225.4 L387.1,224.9 L387.4,224.6 L387.8,224.8 L388.1,224.3 L388.5,225.3 L388.9,224.5 L389.2,225.2 L389.6,224.5 L389.9,224.8 L390.3,224.8 L390.6,225.1 L391.0,225.7 L391.3,225.4 L391.7,224.6 L392.1,225.0 L392.4,224.6 L392.8,225.5 L393.1,224.6 L393.5,224.5 L393.8,225.8 L394.2,224.8 L394.5,224.1 L394.9,225.2 L395.3,224.5 L395.6,224.9 L396.0,224.6 L396.3,225.1 L396.7,225.2 L397.0,225.1 L397.4,225.1 L397.7,225.2 L398.1,225.3 L398.5,224.5 L398.8,225.2 L399.2,225.4 L399.5,225.3 L399.9,224.7 L400.2,225.9 L400.6,224.7 L400.9,224.6 L401.3,224.4 L401.7,225.1 L402.0,225.3 L402.4,224.9 L402.7,224.9 L403.1,224.4 L403.4,224.9 L403.8,225.1 L404.1,225.5 L404.5,225.0 L404.9,224.9 L405.2,224.5 L405.6,224.9 L405.9,224.4 L406.3,224.4 L406.6,225.3 L407.0,225.4 L407.3,225.2 L407.7,225.1 L408.1,225.3 L408.4,224.7 L408.8,224.7 L409.1,224.5 L409.5,224.8 L409.8,225.2 L410.2,224.8 L410.5,225.4 L410.9,224.9 L411.3,225.3 L411.6,224.5 L412.0,226.1 L412.3,224.6 L412.7,224.6 L413.0,225.0 L413.4,224.8 L413.7,224.9 L414.1,224.4 L414.5,224.3 L414.8,225.0 L415.2,224.3 L415.5,225.3 L415.9,224.8 L416.2,224.8 L416.6,225.5 L416.9,224.8 L417.3,225.3 L417.7,224.7 L418.0,225.4 L418.4,225.7 L418.7,225.5 L419.1,225.0 L419.4,224.9 L419.8,224.8 L420.1,225.3 L420.5,224.7 L420.9,225.2 L421.2,225.1 L421.6,224.6 L421.9,225.1 L422.3,225.8 L422.6,224.7 L423.0,225.0 L423.3,225.2 L423.7,224.5 L424.1,225.3 L424.4,224.7 L424.8,224.9 L425.1,223.9 L425.5,225.8 L425.8,224.9 L426.2,224.9 L426.5,224.5 L426.9,225.2 L427.3,225.3 L427.6,224.4 L428.0,225.2 L428.3,224.9 L428.7,225.0 L429.0,224.8 L429.4,225.6 L429.7,225.2 L430.1,225.0 L430.5,225.0 L430.8,224.6 L431.2,224.8 L431.5,224.8 L431.9,225.0 L432.2,224.5 L432.6,225.3 L432.9,225.1 L433.3,225.6 L433.7,225.5 L434.0,224.7 L434.4,225.0 L434.7,225.8 L435.1,225.0 L435.4,225.1 L435.8,225.5 L436.1,224.9 L436.5,225.1 L436.9,225.0 L437.2,224.6 L437.6,225.3 L437.9,224.6 L438.3,225.1 L438.6,225.1 L439.0,224.5 L439.3,224.9 L439.7,225.2 L440.1,225.1 L440.4,224.9 L440.8,225.6 L441.1,224.7 L441.5,225.0 L441.8,225.6 L442.2,225.4 L442.5,224.7 L442.9,225.6 L443.3,224.1 L443.6,225.5 L444.0,224.9 L444.3,226.1 L444.7,225.1 L445.0,225.2 L445.4,224.8 L445.7,224.9 L446.1,225.2 L446.5,224.1 L446.8,224.7 L447.2,225.3 L447.5,224.9 L447.9,226.2 L448.2,225.3 L448.6,224.5 L448.9,225.3 L449.3,225.0 L449.7,225.5 L450.0,224.7 L450.4,225.0 L450.7,225.0 L451.1,224.6 L451.4,224.3 L451.8,224.7 L452.1,225.8 L452.5,224.9 L452.9,224.9 L453.2,225.5 L453.6,225.7 L453.9,225.2 L454.3,225.2 L454.6,225.1 L455.0,225.3 L455.3,225.0 L455.7,224.9 L456.1,225.2 L456.4,224.9 L456.8,225.3 L457.1,225.7 L457.5,225.0 L457.8,224.7 L458.2,223.9 L458.5,225.9 L458.9,225.2 L459.3,225.4 L459.6,224.9 L460.0,225.4 L460.3,225.0 L460.7,224.6 L461.0,225.3 L461.4,225.0 L461.7,224.3 L462.1,224.6 L462.5,225.7 L462.8,224.1 L463.2,225.3 L463.5,224.9 L463.9,225.2 L464.2,225.2 L464.6,225.3 L464.9,224.7 L465.3,225.3 L465.7,225.5 L466.0,225.2 L466.4,225.0 L466.7,225.8 L467.1,224.6 L467.4,225.3 L467.8,224.6 L468.1,224.4 L468.5,224.8 L468.9,224.7 L469.2,225.1 L469.6,225.2 L469.9,225.7 L470.3,225.0 L470.6,225.1 L471.0,225.9 L471.3,224.8 L471.7,224.2 L472.1,224.7 L472.4,224.4 L472.8,225.0 L473.1,225.3 L473.5,224.8 L473.8,225.0 L474.2,225.3 L474.5,224.3 L474.9,224.7 L475.3,225.0 L475.6,224.6 L476.0,224.8 L476.3,224.4 L476.7,224.0 L477.0,224.9 L477.4,225.1 L477.7,224.0 L478.1,223.5 L478.5,224.7 L478.8,224.8 L479.2,224.9 L479.5,224.3 L479.9,224.2 L480.2,224.3 L480.6,223.7 L480.9,224.3 L481.3,224.1 L481.7,224.2 L482.0,222.9 L482.4,222.9 L482.7,222.5 L483.1,223.1 L483.4,221.9 L483.8,221.9 L484.1,221.2 L484.5,220.8 L484.9,220.5 L485.2,219.7 L485.6,219.6 L485.9,218.3 L486.3,217.4 L486.6,217.1 L487.0,216.0 L487.3,215.1 L487.7,215.8 L488.1,216.2 L488.4,216.6 L488.8,216.8 L489.1,217.0 L489.5,218.4 L489.8,219.3 L490.2,220.5 L490.5,220.5 L490.9,221.0 L491.3,221.9 L491.6,222.2 L492.0,222.8 L492.3,222.6 L492.7,222.6 L493.0,223.2 L493.4,223.3 L493.7,223.7 L494.1,224.1 L494.5,224.2 L494.8,224.2 L495.2,224.0 L495.5,224.1 L495.9,223.8 L496.2,223.9 L496.6,223.7 L496.9,224.0 L497.3,224.5 L497.7,224.3 L498.0,225.1 L498.4,223.7 L498.7,224.7 L499.1,224.6 L499.4,223.7 L499.8,224.9 L500.1,224.7 L500.5,224.5 L500.9,224.7 L501.2,224.4 L501.6,224.4 L501.9,224.2 L502.3,224.5 L502.6,224.1 L503.0,224.6 L503.3,224.1 L503.7,223.9 L504.1,225.1 L504.4,224.4 L504.8,224.2 L505.1,225.0 L505.5,225.5 L505.8,224.0 L506.2,224.4 L506.5,223.7 L506.9,223.9 L507.3,223.8 L507.6,223.9 L508.0,223.6 L508.3,223.9 L508.7,223.5 L509.0,222.8 L509.4,223.0 L509.7,222.3 L510.1,222.2 L510.5,221.9 L510.8,221.6 L511.2,220.1 L511.5,220.0 L511.9,218.6 L512.2,218.3 L512.6,216.2 L512.9,214.8 L513.3,213.7 L513.6,212.7 L514.0,210.8 L514.4,209.8 L514.7,209.8 L515.1,210.2 L515.4,210.4 L515.8,212.1 L516.1,213.6 L516.5,214.6 L516.8,216.4 L517.2,217.9 L517.6,218.4 L517.9,219.9 L518.3,220.1 L518.6,221.5 L519.0,221.6 L519.3,221.7 L519.7,222.4 L520.0,222.7 L520.4,223.0 L520.8,223.0 L521.1,223.5 L521.5,223.5 L521.8,223.9 L522.2,223.1 L522.5,224.4 L522.9,223.8 L523.2,224.6 L523.6,224.0 L524.0,223.8 L524.3,224.8 L524.7,223.7 L525.0,224.9 L525.4,224.8 L525.7,224.4 L526.1,225.0 L526.4,224.2 L526.8,224.4 L527.2,225.8 L527.5,225.3 L527.9,225.0 L528.2,224.5 L528.6,225.2 L528.9,225.1 L529.3,224.5 L529.6,225.2 L530.0,224.7 L530.4,225.4 L530.7,224.4 L531.1,224.2 L531.4,225.3 L531.8,225.8 L532.1,225.6 L532.5,224.5 L532.8,225.1 L533.2,224.4 L533.6,225.4 L533.9,225.3 L534.3,224.9 L534.6,224.5 L535.0,225.0 L535.3,225.3 L535.7,224.8 L536.0,224.9 L536.4,224.7 L536.8,225.0 L537.1,225.2 L537.5,224.9 L537.8,226.0 L538.2,224.8 L538.5,224.4 L538.9,224.7 L539.2,225.3 L539.6,225.6 L540.0,224.4 L540.3,225.1 L540.7,225.0 L541.0,224.8 L541.4,225.2 L541.7,224.9 L542.1,224.3 L542.4,225.1 L542.8,224.1 L543.2,224.7 L543.5,224.7 L543.9,224.5 L544.2,224.5 L544.6,224.4 L544.9,224.6 L545.3,225.1 L545.6,224.1 L546.0,224.9 L546.4,225.1 L546.7,224.4 L547.1,224.5 L547.4,224.8 L547.8,224.7 L548.1,224.5 L548.5,223.9 L548.8,224.7 L549.2,225.1 L549.6,224.8 L549.9,224.3 L550.3,224.6 L550.6,224.8 L551.0,224.1 L551.3,224.1 L551.7,224.4 L552.0,224.1 L552.4,224.5 L552.8,224.4 L553.1,224.2 L553.5,224.5 L553.8,223.7 L554.2,223.7 L554.5,223.7 L554.9,223.2 L555.2,223.0 L555.6,223.0 L556.0,222.6 L556.3,222.3 L556.7,220.9 L557.0,221.5 L557.4,220.2 L557.7,219.0 L558.1,218.8 L558.4,217.7 L558.8,216.6 L559.2,215.8 L559.5,213.6 L559.9,213.3 L560.2,213.1 L560.6,212.8 L560.9,212.8 L561.3,213.7 L561.6,214.9 L562.0,215.4 L562.4,217.0 L562.7,217.9 L563.1,218.6 L563.4,219.8 L563.8,220.2 L564.1,221.1 L564.5,220.2 L564.8,221.9 L565.2,221.7 L565.6,222.6 L565.9,222.8 L566.3,222.5 L566.6,222.6 L567.0,222.5 L567.3,222.3 L567.7,221.7 L568.0,221.1 L568.4,220.7 L568.8,221.2 L569.1,220.1 L569.5,219.8 L569.8,220.4 L570.2,220.0 L570.5,219.8 L570.9,218.9 L571.2,220.0 L571.6,220.4 L572.0,220.2 L572.3,221.3 L572.7,221.8 L573.0,221.9 L573.4,222.5 L573.7,223.9 L574.1,223.7 L574.4,223.2 L574.8,224.3 L575.2,223.4 L575.5,224.1 L575.9,224.1 L576.2,224.2 L576.6,225.2 L576.9,224.8 L577.3,225.0 L577.6,224.5 L578.0,224.0 L578.4,224.8 L578.7,224.7 L579.1,225.6 L579.4,225.0 L579.8,225.0 L580.1,225.0 L580.5,224.7 L580.8,224.4 L581.2,225.0 L581.6,224.8 L581.9,225.6 L582.3,224.8 L582.6,225.0 L583.0,225.8 L583.3,224.9 L583.7,225.3 L584.0,224.7 L584.4,224.9 L584.8,225.1 L585.1,224.4 L585.5,225.2 L585.8,225.2 L586.2,225.1 L586.5,225.1 L586.9,225.5 L587.2,224.9 L587.6,225.0 L588.0,225.4 L588.3,225.8 L588.7,224.7 L589.0,224.6 L589.4,224.8 L589.7,224.7 L590.1,224.4 L590.4,225.0 L590.8,224.5 L591.2,225.2 L591.5,225.5 L591.9,225.1 L592.2,225.3 L592.6,224.9 L592.9,224.4 L593.3,225.0 L593.6,224.7 L594.0,224.3 L594.4,224.4 L594.7,225.1 L595.1,225.4 L595.4,224.3 L595.8,225.6 L596.1,225.9 L596.5,226.0 L596.8,224.6 L597.2,225.7 L597.6,225.2 L597.9,225.2 L598.3,224.6 L598.6,225.7 L599.0,225.1 L599.3,224.9 L599.7,224.5 L600.0,225.1 L600.4,224.9 L600.8,225.1 L601.1,224.5 L601.5,224.5 L601.8,225.0 L602.2,224.5 L602.5,225.3 L602.9,224.6 L603.2,224.9 L603.6,224.6 L604.0,223.9 L604.3,223.3 L604.7,224.0 L605.0,224.1 L605.4,224.2 L605.7,223.7 L606.1,224.2 L606.4,223.8 L606.8,223.6 L607.2,224.1 L607.5,224.7 L607.9,224.3 L608.2,225.0 L608.6,225.5 L608.9,224.3 L609.3,224.1 L609.6,224.4 L610.0,225.1 L610.4,226.4 L610.7,225.3 L611.1,224.8 L611.4,225.2 L611.8,224.5 L612.1,225.4 L612.5,224.9 L612.8,225.0 L613.2,225.0 L613.6,225.7 L613.9,225.1 L614.3,225.0 L614.6,225.3 L615.0,225.7 L615.3,225.3 L615.7,225.5 L616.0,224.9 L616.4,224.7 L616.8,224.9 L617.1,224.9 L617.5,225.1 L617.8,225.0 L618.2,225.9 L618.5,225.0 L618.9,224.6 L619.2,225.2 L619.6,224.7 L620.0,225.6 L620.3,224.9 L620.7,224.9 L621.0,224.6 L621.4,224.7 L621.7,223.7 L622.1,225.9 L622.4,225.1 L622.8,224.6 L623.2,224.2 L623.5,224.3 L623.9,224.2 L624.2,224.4 L624.6,224.0 L624.9,223.6 L625.3,222.4 L625.6,223.2 L626.0,221.5 L626.4,222.1 L626.7,222.6 L627.1,222.2 L627.4,222.2 L627.8,223.3 L628.1,223.7 L628.5,222.6 L628.8,223.9 L629.2,223.3 L629.6,223.6 L629.9,224.8 L630.3,223.9 L630.6,224.1 L631.0,223.9 L631.3,224.6 L631.7,224.5 L632.0,224.6 L632.4,224.9 L632.8,224.2 L633.1,224.5 L633.5,224.3 L633.8,224.8 L634.2,224.5 L634.5,225.4 L634.9,225.3 L635.2,224.6 L635.6,225.1 L636.0,225.2 L636.3,225.0 L636.7,225.7 L637.0,225.0 L637.4,224.9 L637.7,225.2 L638.1,225.5 L638.4,224.3 L638.8,224.8 L639.2,225.4 L639.5,225.2 L639.9,225.6 L640.2,225.6 L640.6,225.6 L640.9,225.1 L641.3,224.4 L641.6,224.2 L642.0,224.5 L642.4,223.9 L642.7,224.0 L643.1,224.6 L643.4,224.5 L643.8,224.0 L644.1,223.9 L644.5,223.8 L644.8,224.9 L645.2,225.3 L645.6,223.7 L645.9,224.8 L646.3,224.3 L646.6,224.8 L647.0,225.5 L647.3,224.4 L647.7,224.8 L648.0,224.4 L648.4,224.8 L648.8,225.5 L649.1,225.2 L649.5,224.8 L649.8,225.5 L650.2,225.1 L650.5,224.7 L650.9,225.8 L651.2,225.4 L651.6,225.2 L652.0,224.9 L652.3,225.3 L652.7,225.6 L653.0,225.0 L653.4,225.5 L653.7,225.1 L654.1,225.1 L654.4,225.4 L654.8,224.9 L655.2,224.8 L655.5,225.9 L655.9,225.1 L656.2,225.4 L656.6,225.4 L656.9,225.3 L657.3,224.8 L657.6,225.4 L658.0,225.5 L658.4,225.9 L658.7,225.4 L659.1,225.3 L659.4,225.7 L659.8,225.5 L660.1,225.1 L660.5,224.8 L660.8,225.5 L661.2,224.5 L661.6,224.9 L661.9,225.0 L662.3,225.1 L662.6,225.3 L663.0,225.6 L663.3,225.4 L663.7,225.3 L664.0,225.3 L664.4,224.7 L664.8,224.5 L665.1,225.1 L665.5,224.9 L665.8,225.6 L666.2,226.2 L666.5,225.4 L666.9,225.2 L667.2,224.8 L667.6,224.3" fill="none" stroke="#11888a" stroke-width="2.7" stroke-linejoin="round" stroke-linecap="butt"/>
<path d="M45.4,298.1 L45.9,298.3 L46.5,298.3 L47.0,298.3 L47.5,298.2 L48.1,298.4 L48.6,299.0 L49.1,298.8 L49.7,298.3 L50.2,298.2 L50.7,298.4 L51.3,298.5 L51.8,298.5 L52.3,298.5 L52.9,298.5 L53.4,298.7 L53.9,298.5 L54.5,298.5 L55.0,298.9 L55.5,298.6 L56.1,298.3 L56.6,298.8 L57.1,298.6 L57.7,298.5 L58.2,298.7 L58.7,298.6 L59.3,298.2 L59.8,298.2 L60.3,298.3 L60.9,298.4 L61.4,298.4 L61.9,298.6 L62.5,298.7 L63.0,298.6 L63.5,298.7 L64.1,298.6 L64.6,298.3 L65.1,298.3 L65.7,298.4 L66.2,298.4 L66.7,298.5 L67.3,298.6 L67.8,298.3 L68.3,298.4 L68.9,298.5 L69.4,298.5 L69.9,298.5 L70.5,298.6 L71.0,298.4 L71.5,298.6 L72.1,298.6 L72.6,298.2 L73.1,298.4 L73.7,298.6 L74.2,298.7 L74.7,298.6 L75.3,298.4 L75.8,298.3 L76.3,298.2 L76.9,298.3 L77.4,298.7 L77.9,298.9 L78.5,298.6 L79.0,298.5 L79.5,298.6 L80.1,298.7 L80.6,298.5 L81.1,298.5 L81.7,298.6 L82.2,298.2 L82.7,298.1 L83.3,298.2 L83.8,298.1 L84.3,298.5 L84.9,298.5 L85.4,298.4 L85.9,298.5 L86.5,298.8 L87.0,298.7 L87.5,298.5 L88.1,298.4 L88.6,298.3 L89.1,298.5 L89.7,298.7 L90.2,298.6 L90.7,298.5 L91.3,298.6 L91.8,298.3 L92.3,298.2 L92.9,298.4 L93.4,298.1 L93.9,298.2 L94.5,298.3 L95.0,298.3 L95.5,298.3 L96.1,298.2 L96.6,298.3 L97.1,298.4 L97.7,298.5 L98.2,298.6 L98.7,298.6 L99.3,298.5 L99.8,298.2 L100.3,298.4 L100.9,298.7 L101.4,298.7 L101.9,298.6 L102.5,298.3 L103.0,298.4 L103.5,298.5 L104.1,298.7 L104.6,298.8 L105.1,298.4 L105.7,298.5 L106.2,298.8 L106.7,298.6 L107.3,298.4 L107.8,298.2 L108.3,298.3 L108.9,298.5 L109.4,298.5 L109.9,298.5 L110.5,298.7 L111.0,298.5 L111.5,298.2 L112.1,298.4 L112.6,298.5 L113.1,298.4 L113.7,298.3 L114.2,298.5 L114.7,298.5 L115.3,298.4 L115.8,298.5 L116.3,298.5 L116.9,298.5 L117.4,298.5 L117.9,298.7 L118.5,298.8 L119.0,298.5 L119.5,298.3 L120.1,298.3 L120.6,298.9 L121.1,299.1 L121.7,298.6 L122.2,298.1 L122.7,298.0 L123.3,298.3 L123.8,298.5 L124.3,298.5 L124.9,298.3 L125.4,298.2 L125.9,298.5 L126.5,298.4 L127.0,298.2 L127.5,298.6 L128.1,298.8 L128.6,298.4 L129.1,298.2 L129.7,298.5 L130.2,298.6 L130.7,298.3 L131.3,298.3 L131.8,298.5 L132.3,298.6 L132.9,298.4 L133.4,298.3 L133.9,298.5 L134.5,298.2 L135.0,298.1 L135.5,298.6 L136.1,298.7 L136.6,298.8 L137.1,298.9 L137.7,298.5 L138.2,298.1 L138.7,298.1 L139.3,298.3 L139.8,298.3 L140.3,298.3 L140.9,298.5 L141.4,298.3 L141.9,298.2 L142.5,298.1 L143.0,298.1 L143.5,298.4 L144.1,298.6 L144.6,298.5 L145.1,298.5 L145.7,298.4 L146.2,298.4 L146.7,298.5 L147.3,298.3 L147.8,298.0 L148.3,298.2 L148.9,298.5 L149.4,298.6 L149.9,298.6 L150.5,298.6 L151.0,298.7 L151.5,298.5 L152.1,298.3 L152.6,298.3 L153.1,298.5 L153.7,298.5 L154.2,298.1 L154.7,298.1 L155.3,298.4 L155.8,298.1 L156.3,298.0 L156.9,298.4 L157.4,298.4 L157.9,298.4 L158.5,298.5 L159.0,298.3 L159.5,298.3 L160.1,298.7 L160.6,298.5 L161.1,298.2 L161.7,298.5 L162.2,298.6 L162.7,298.3 L163.3,298.2 L163.8,298.2 L164.3,298.3 L164.9,298.5 L165.4,298.5 L165.9,298.5 L166.5,298.4 L167.0,298.7 L167.5,299.0 L168.1,298.6 L168.6,298.3 L169.1,298.4 L169.7,298.5 L170.2,298.5 L170.7,298.7 L171.3,298.5 L171.8,298.4 L172.3,298.5 L172.9,298.6 L173.4,298.5 L173.9,298.4 L174.5,298.4 L175.0,298.4 L175.5,298.4 L176.1,298.3 L176.6,298.2 L177.1,298.1 L177.7,297.9 L178.2,298.2 L178.7,298.5 L179.3,298.5 L179.8,298.4 L180.3,298.2 L180.9,298.4 L181.4,298.6 L181.9,298.2 L182.5,298.2 L183.0,298.3 L183.5,298.2 L184.1,298.3 L184.6,298.3 L185.1,298.4 L185.7,298.5 L186.2,298.1 L186.7,298.1 L187.3,298.3 L187.8,298.5 L188.3,298.3 L188.9,298.3 L189.4,298.6 L189.9,298.6 L190.5,298.6 L191.0,298.7 L191.5,298.6 L192.1,298.5 L192.6,298.4 L193.1,298.5 L193.7,298.6 L194.2,298.5 L194.7,298.4 L195.3,298.5 L195.8,298.5 L196.3,298.4 L196.9,298.3 L197.4,298.1 L197.9,298.2 L198.5,298.2 L199.0,298.3 L199.5,298.3 L200.1,298.2 L200.6,298.4 L201.1,298.4 L201.7,298.5 L202.2,298.3 L202.7,298.1 L203.3,298.5 L203.8,298.7 L204.3,298.6 L204.9,298.5 L205.4,298.4 L205.9,298.2 L206.5,298.1 L207.0,298.1 L207.5,298.4 L208.1,298.3 L208.6,298.0 L209.1,298.4 L209.7,298.7 L210.2,298.5 L210.7,298.5 L211.3,298.3 L211.8,298.1 L212.3,298.3 L212.9,298.5 L213.4,298.8 L213.9,298.8 L214.5,298.6 L215.0,298.6 L215.5,298.8 L216.1,298.8 L216.6,298.6 L217.1,298.4 L217.7,298.4 L218.2,298.4 L218.7,298.4 L219.3,298.4 L219.8,298.2 L220.3,298.3 L220.9,298.4 L221.4,298.5 L221.9,298.4 L222.5,298.1 L223.0,298.1 L223.5,298.2 L224.1,298.3 L224.6,298.5 L225.1,298.5 L225.7,298.1 L226.2,298.5 L226.7,298.5 L227.3,298.2 L227.8,298.4 L228.3,298.4 L228.9,298.5 L229.4,298.2 L229.9,298.2 L230.5,298.1 L231.0,298.1 L231.5,298.2 L232.1,298.3 L232.6,298.5 L233.1,298.4 L233.7,298.3 L234.2,298.0 L234.7,298.1 L235.3,298.5 L235.8,298.5 L236.3,298.5 L236.9,298.4 L237.4,298.2 L237.9,298.4 L238.5,298.4 L239.0,298.1 L239.5,298.0 L240.1,298.2 L240.6,298.1 L241.1,297.9 L241.7,298.0 L242.2,298.0 L242.7,297.5 L243.3,297.6 L243.8,297.5 L244.3,297.2 L244.9,297.1 L245.4,297.0 L245.9,297.1 L246.5,297.3 L247.0,297.5 L247.5,297.6 L248.1,297.6 L248.6,298.1 L249.1,298.1 L249.7,297.8 L250.2,297.8 L250.7,298.0 L251.3,298.4 L251.8,298.3 L252.3,298.0 L252.9,297.9 L253.4,298.1 L253.9,298.4 L254.5,298.3 L255.0,298.3 L255.5,298.5 L256.1,298.5 L256.6,298.3 L257.1,298.3 L257.7,298.0 L258.2,298.1 L258.7,298.3 L259.3,298.1 L259.8,298.1 L260.3,298.1 L260.9,297.9 L261.4,298.2 L261.9,298.3 L262.5,298.2 L263.0,298.1 L263.5,298.1 L264.1,298.1 L264.6,298.0 L265.1,297.9 L265.7,298.0 L266.2,297.9 L266.7,297.9 L267.3,297.8 L267.8,297.6 L268.3,297.5 L268.9,297.5 L269.4,296.8 L269.9,295.9 L270.5,295.1 L271.0,293.6 L271.5,291.0 L272.1,287.8 L272.6,285.7 L273.1,285.6 L273.7,288.1 L274.2,291.2 L274.7,293.4 L275.3,294.9 L275.8,295.8 L276.3,296.6 L276.9,296.9 L277.4,296.7 L277.9,297.2 L278.5,297.5 L279.0,297.5 L279.5,297.7 L280.1,298.0 L280.6,298.2 L281.1,297.9 L281.7,297.7 L282.2,298.0 L282.7,297.8 L283.3,297.6 L283.8,297.8 L284.3,298.1 L284.9,298.2 L285.4,297.9 L285.9,298.2 L286.5,298.6 L287.0,298.4 L287.5,298.1 L288.1,297.9 L288.6,298.0 L289.1,298.0 L289.7,298.0 L290.2,297.9 L290.7,297.4 L291.3,297.4 L291.8,297.7 L292.3,297.8 L292.9,297.8 L293.4,297.7 L293.9,297.8 L294.5,297.8 L295.0,297.9 L295.5,297.8 L296.1,297.8 L296.6,297.7 L297.1,297.2 L297.7,296.7 L298.2,296.4 L298.7,295.9 L299.3,295.4 L299.8,294.3 L300.3,292.6 L300.9,290.7 L301.4,288.7 L301.9,287.8 L302.5,288.6 L303.0,290.5 L303.5,292.5 L304.1,294.1 L304.6,295.1 L305.1,295.6 L305.7,296.2 L306.2,296.9 L306.7,297.2 L307.3,297.2 L307.8,297.3 L308.3,297.4 L308.9,297.4 L309.4,297.6 L309.9,297.9 L310.5,298.2 L311.0,298.0 L311.5,297.8 L312.1,298.1 L312.6,298.2 L313.1,298.1 L313.7,298.2 L314.2,297.9 L314.7,297.9 L315.3,297.8 L315.8,297.8 L316.3,298.3 L316.9,298.2 L317.4,297.8 L317.9,297.8 L318.5,298.1 L319.0,298.4 L319.5,298.4 L320.1,298.3 L320.6,298.4 L321.1,298.0 L321.7,298.0 L322.2,298.1 L322.7,298.1 L323.3,298.3 L323.8,298.2 L324.3,298.0 L324.9,298.0 L325.4,298.2 L325.9,298.4 L326.5,298.6 L327.0,298.4 L327.5,298.2 L328.1,298.2 L328.6,298.0 L329.1,298.0 L329.7,298.2 L330.2,298.3 L330.7,298.2 L331.3,298.2 L331.8,298.6 L332.3,298.7 L332.9,298.4 L333.4,298.1 L333.9,298.2 L334.5,298.5 L335.0,298.2 L335.5,298.0 L336.1,298.3 L336.6,298.2 L337.1,298.1 L337.7,298.2 L338.2,298.3 L338.7,298.4 L339.3,298.2 L339.8,298.1 L340.3,298.2 L340.9,298.4 L341.4,298.6 L341.9,298.4 L342.5,298.4 L343.0,298.6 L343.5,298.6 L344.1,298.1 L344.6,298.0 L345.1,298.3 L345.7,298.4 L346.2,298.5 L346.7,298.4 L347.3,298.3 L347.8,298.4 L348.3,298.2 L348.9,298.0 L349.4,298.0 L349.9,298.4 L350.5,298.6 L351.0,298.2 L351.5,298.2 L352.1,298.2 L352.6,298.1 L353.1,298.1 L353.7,298.2 L354.2,298.5 L354.7,298.5 L355.3,298.2 L355.8,298.1 L356.3,298.5 L356.9,298.3 L357.4,298.3 L357.9,298.5 L358.5,298.2 L359.0,298.1 L359.5,298.1 L360.1,298.2 L360.6,298.6 L361.1,298.5 L361.7,298.2 L362.2,298.3 L362.7,298.2 L363.3,298.0 L363.8,298.1 L364.3,298.0 L364.9,297.7 L365.4,297.9 L365.9,298.2 L366.5,298.4 L367.0,298.3 L367.5,298.4 L368.1,298.2 L368.6,297.8 L369.1,298.1 L369.7,298.2 L370.2,298.2 L370.7,298.5 L371.3,298.2 L371.8,298.2 L372.3,298.3 L372.9,298.2 L373.4,298.0 L373.9,297.9 L374.5,297.9 L375.0,297.8 L375.5,298.2 L376.1,298.4 L376.6,298.6 L377.1,298.5 L377.7,298.5 L378.2,298.7 L378.7,298.6 L379.3,298.6 L379.8,298.1 L380.3,298.1 L380.9,298.3 L381.4,298.2 L381.9,298.1 L382.5,298.2 L383.0,298.2 L383.5,298.0 L384.1,298.1 L384.6,298.2 L385.1,297.8 L385.7,297.5 L386.2,297.4 L386.7,297.5 L387.3,297.4 L387.8,297.1 L388.3,296.9 L388.9,296.3 L389.4,295.6 L389.9,295.2 L390.5,295.0 L391.0,294.8 L391.5,295.1 L392.1,295.9 L392.6,296.1 L393.1,296.6 L393.7,297.2 L394.2,297.4 L394.7,297.5 L395.3,297.5 L395.8,297.6 L396.3,297.7 L396.9,298.0 L397.4,297.8 L397.9,297.8 L398.5,298.0 L399.0,298.1 L399.5,298.2 L400.1,298.1 L400.6,297.8 L401.1,297.7 L401.7,297.9 L402.2,298.0 L402.7,297.9 L403.3,298.1 L403.8,298.0 L404.3,297.9 L404.9,298.4 L405.4,298.3 L405.9,298.2 L406.5,298.2 L407.0,298.0 L407.5,298.1 L408.1,298.2 L408.6,297.9 L409.1,298.2 L409.7,298.6 L410.2,298.5 L410.7,298.2 L411.3,297.9 L411.8,297.7 L412.3,298.0 L412.9,298.1 L413.4,298.5 L413.9,298.6 L414.5,298.4 L415.0,298.2 L415.5,298.2 L416.1,298.2 L416.6,298.1 L417.1,298.2 L417.7,298.3 L418.2,298.4 L418.7,298.1 L419.3,298.3 L419.8,298.4 L420.3,298.0 L420.9,298.3 L421.4,298.5 L421.9,298.1 L422.5,298.1 L423.0,298.4 L423.5,298.2 L424.1,298.0 L424.6,297.9 L425.1,298.1 L425.7,298.4 L426.2,298.5 L426.7,298.2 L427.3,298.3 L427.8,298.4 L428.3,298.0 L428.9,298.0 L429.4,298.0 L429.9,297.8 L430.5,297.5 L431.0,297.6 L431.5,297.6 L432.1,297.4 L432.6,297.4 L433.1,297.7 L433.7,297.8 L434.2,297.8 L434.7,298.0 L435.3,298.0 L435.8,297.8 L436.3,297.7 L436.9,297.7 L437.4,297.9 L437.9,298.2 L438.5,297.9 L439.0,298.0 L439.5,298.1 L440.1,297.9 L440.6,298.0 L441.1,298.3 L441.7,298.3 L442.2,298.0 L442.7,298.0 L443.3,297.9 L443.8,298.0 L444.3,298.3 L444.9,298.4 L445.4,298.4 L445.9,298.3 L446.5,298.3 L447.0,298.3 L447.5,298.4 L448.1,298.3 L448.6,298.1 L449.1,298.1 L449.7,298.3 L450.2,298.1 L450.7,297.8 L451.3,298.0 L451.8,298.2 L452.3,298.5 L452.9,298.6 L453.4,298.4 L453.9,298.0 L454.5,297.7 L455.0,297.8 L455.5,298.1 L456.1,298.2 L456.6,298.3 L457.1,298.4 L457.7,298.3 L458.2,298.3 L458.7,298.0 L459.3,297.6 L459.8,297.8 L460.3,298.1 L460.9,298.3 L461.4,298.5 L461.9,298.0 L462.5,297.8 L463.0,297.8 L463.5,297.9 L464.1,297.8 L464.6,297.9 L465.1,298.2 L465.7,297.7 L466.2,297.8 L466.7,298.1 L467.3,298.1 L467.8,297.9 L468.3,297.9 L468.9,298.1 L469.4,298.1 L469.9,297.9 L470.5,297.9 L471.0,298.1 L471.5,297.9 L472.1,297.6 L472.6,297.3 L473.1,297.1 L473.7,297.0 L474.2,296.7 L474.7,296.5 L475.3,296.4 L475.8,296.7 L476.3,297.3 L476.9,297.6 L477.4,297.5 L477.9,297.7 L478.5,297.7 L479.0,297.8 L479.5,297.8 L480.1,297.8 L480.6,297.8 L481.1,298.0 L481.7,298.5 L482.2,298.5 L482.7,297.8 L483.3,297.7 L483.8,298.1 L484.3,298.0 L484.9,298.1 L485.4,298.1 L485.9,298.0 L486.5,297.8 L487.0,297.6 L487.5,297.9 L488.1,297.9 L488.6,297.9 L489.1,298.1 L489.7,298.1 L490.2,298.0 L490.7,298.0 L491.3,297.9 L491.8,297.9 L492.3,297.7 L492.9,297.8 L493.4,298.0 L493.9,298.1 L494.5,298.0 L495.0,298.0 L495.5,298.1 L496.1,298.0 L496.6,298.0 L497.1,297.9 L497.7,297.8 L498.2,297.8 L498.7,297.8 L499.3,297.9 L499.8,297.6 L500.3,297.0 L500.9,296.9 L501.4,296.6 L501.9,296.1 L502.5,296.1 L503.0,295.7 L503.5,295.9 L504.1,296.3 L504.6,296.3 L505.1,296.8 L505.7,297.0 L506.2,297.2 L506.7,297.4 L507.3,297.5 L507.8,297.7 L508.3,297.7 L508.9,297.5 L509.4,297.5 L509.9,297.7 L510.5,297.7 L511.0,297.8 L511.5,298.0 L512.1,298.0 L512.6,297.8 L513.1,297.7 L513.6,297.8 L514.2,298.0 L514.7,298.0 L515.2,298.1 L515.8,298.2 L516.3,298.3 L516.8,298.4 L517.4,298.2 L517.9,298.3 L518.4,298.4 L519.0,298.1 L519.5,297.9 L520.0,297.8 L520.6,297.7 L521.1,297.8 L521.6,297.9 L522.2,297.9 L522.7,297.8 L523.2,298.1 L523.8,298.3 L524.3,297.9 L524.8,297.8 L525.4,297.9 L525.9,298.1 L526.4,298.0 L527.0,297.9 L527.5,298.2 L528.0,298.0 L528.6,297.9 L529.1,298.1 L529.6,298.2 L530.2,298.6 L530.7,298.3 L531.2,297.7 L531.8,298.1 L532.3,298.4 L532.8,298.0 L533.4,297.9 L533.9,297.9 L534.4,298.0 L535.0,298.1 L535.5,297.9 L536.0,297.6 L536.6,297.7 L537.1,298.1 L537.6,297.9 L538.2,297.5 L538.7,297.6 L539.2,297.3 L539.8,297.0 L540.3,297.2 L540.8,297.0 L541.4,296.7 L541.9,296.6 L542.4,296.4 L543.0,296.4 L543.5,296.5 L544.0,296.3 L544.6,296.1 L545.1,296.5 L545.6,296.8 L546.2,296.9 L546.7,297.0 L547.2,297.2 L547.8,297.2 L548.3,297.1 L548.8,297.7 L549.4,297.7 L549.9,298.0 L550.4,298.0 L551.0,297.8 L551.5,297.8 L552.0,297.8 L552.6,298.3 L553.1,298.6 L553.6,298.3 L554.2,298.1 L554.7,297.9 L555.2,297.9 L555.8,297.9 L556.3,297.8 L556.8,297.6 L557.4,297.6 L557.9,297.7 L558.4,297.8 L559.0,297.7 L559.5,297.4 L560.0,297.3 L560.6,297.1 L561.1,297.1 L561.6,296.9 L562.2,296.5 L562.7,296.2 L563.2,296.0 L563.8,295.8 L564.3,296.2 L564.8,296.6 L565.4,296.8 L565.9,297.0 L566.4,297.3 L567.0,297.6 L567.5,297.5 L568.0,297.5 L568.6,297.6 L569.1,297.6 L569.6,298.0 L570.2,298.2 L570.7,297.9 L571.2,297.8 L571.8,297.7 L572.3,297.8 L572.8,297.7 L573.4,298.0 L573.9,298.4 L574.4,297.9 L575.0,297.6 L575.5,297.9 L576.0,297.9 L576.6,297.7 L577.1,298.1 L577.6,298.3 L578.2,298.0 L578.7,298.0 L579.2,297.8 L579.8,297.7 L580.3,297.8 L580.8,298.0 L581.4,298.3 L581.9,298.3 L582.4,297.9 L583.0,297.5 L583.5,297.9 L584.0,298.1 L584.6,298.4 L585.1,298.2 L585.6,298.0 L586.2,298.1 L586.7,297.7 L587.2,298.0 L587.8,298.3 L588.3,298.0 L588.8,297.7 L589.4,297.9 L589.9,298.2 L590.4,298.1 L591.0,297.7 L591.5,297.9 L592.0,298.2 L592.6,297.9 L593.1,297.7 L593.6,298.0 L594.2,298.0 L594.7,297.8 L595.2,297.6 L595.8,297.6 L596.3,297.7 L596.8,297.9 L597.4,297.7 L597.9,297.3 L598.4,297.2 L599.0,297.1 L599.5,297.0 L600.0,296.9 L600.6,297.0 L601.1,297.4 L601.6,297.3 L602.2,297.3 L602.7,297.6 L603.2,297.6 L603.8,297.7 L604.3,297.8 L604.8,298.0 L605.4,297.8 L605.9,297.9 L606.4,297.9 L607.0,297.9 L607.5,298.2 L608.0,298.1 L608.6,297.9 L609.1,297.8 L609.6,298.0 L610.2,298.2 L610.7,298.0 L611.2,297.8 L611.8,297.9 L612.3,297.9 L612.8,298.0 L613.4,297.9 L613.9,297.8 L614.4,297.7 L615.0,297.7 L615.5,298.1 L616.0,298.0 L616.6,297.7 L617.1,297.8 L617.6,298.3 L618.2,298.3 L618.7,297.8 L619.2,297.7 L619.8,297.6 L620.3,297.3 L620.8,297.2 L621.4,297.3 L621.9,297.0 L622.4,296.7 L623.0,296.6 L623.5,296.8 L624.0,296.9 L624.6,296.5 L625.1,296.5 L625.6,297.1 L626.2,297.3 L626.7,297.2 L627.2,297.2 L627.8,297.3 L628.3,297.4 L628.8,297.7 L629.4,298.0 L629.9,298.1 L630.4,297.7 L631.0,297.8 L631.5,297.9 L632.0,298.0 L632.6,298.3 L633.1,298.1 L633.6,298.0 L634.2,298.1 L634.7,298.1 L635.2,298.1 L635.8,297.8 L636.3,298.0 L636.8,298.1 L637.4,297.8 L637.9,297.8 L638.4,298.2 L639.0,298.2 L639.5,298.0 L640.0,298.2 L640.6,298.1 L641.1,298.2 L641.6,298.3 L642.2,298.2 L642.7,298.1 L643.2,297.9 L643.8,297.9 L644.3,297.9 L644.8,297.9 L645.4,297.8 L645.9,298.0 L646.4,298.2 L647.0,298.0 L647.5,298.0 L648.0,297.9 L648.6,297.8 L649.1,297.9 L649.6,297.9 L650.2,298.0 L650.7,298.1 L651.2,298.1 L651.8,297.9 L652.3,297.7 L652.8,297.7 L653.4,297.9 L653.9,298.1 L654.4,297.7 L655.0,297.5 L655.5,298.1 L656.0,298.1 L656.6,297.9 L657.1,298.0 L657.6,298.1 L658.2,298.2 L658.7,298.2 L659.2,298.2 L659.8,298.3 L660.3,298.2 L660.8,298.2 L661.4,298.0 L661.9,297.8 L662.4,297.9 L663.0,298.1 L663.5,298.0 L664.0,297.9 L664.6,297.7 L665.1,298.1 L665.6,298.7 L666.2,298.5 L666.7,298.1 L667.2,297.8" fill="none" stroke="#ec12ea" stroke-width="2.6" stroke-linejoin="round" stroke-linecap="butt"/>
<path d="M45.4,381.9 L45.9,381.8 L46.5,381.4 L47.0,381.8 L47.5,381.8 L48.1,381.3 L48.6,381.7 L49.1,381.8 L49.7,381.7 L50.2,381.7 L50.7,381.7 L51.3,381.6 L51.8,381.8 L52.3,381.9 L52.9,381.8 L53.4,381.9 L53.9,381.7 L54.5,381.7 L55.0,381.8 L55.5,381.7 L56.1,381.7 L56.6,381.9 L57.1,381.9 L57.7,381.7 L58.2,381.4 L58.7,381.6 L59.3,381.8 L59.8,381.7 L60.3,381.9 L60.9,381.6 L61.4,381.6 L61.9,381.7 L62.5,381.6 L63.0,381.9 L63.5,381.9 L64.1,381.9 L64.6,381.9 L65.1,381.5 L65.7,381.4 L66.2,381.9 L66.7,381.7 L67.3,381.4 L67.8,381.6 L68.3,381.4 L68.9,381.7 L69.4,381.8 L69.9,381.7 L70.5,381.8 L71.0,381.9 L71.5,381.8 L72.1,381.6 L72.6,381.5 L73.1,381.6 L73.7,381.5 L74.2,381.9 L74.7,382.1 L75.3,381.7 L75.8,381.7 L76.3,381.5 L76.9,381.5 L77.4,381.5 L77.9,381.6 L78.5,381.7 L79.0,381.6 L79.5,381.8 L80.1,381.7 L80.6,381.6 L81.1,381.8 L81.7,381.7 L82.2,381.6 L82.7,381.8 L83.3,382.1 L83.8,382.1 L84.3,382.0 L84.9,381.9 L85.4,381.7 L85.9,381.9 L86.5,381.8 L87.0,381.9 L87.5,381.9 L88.1,381.9 L88.6,381.9 L89.1,381.6 L89.7,381.4 L90.2,381.3 L90.7,381.5 L91.3,381.9 L91.8,381.8 L92.3,381.4 L92.9,381.6 L93.4,381.6 L93.9,381.5 L94.5,382.1 L95.0,382.1 L95.5,381.4 L96.1,381.3 L96.6,381.5 L97.1,381.5 L97.7,381.9 L98.2,382.3 L98.7,382.2 L99.3,381.9 L99.8,381.9 L100.3,382.0 L100.9,381.7 L101.4,381.4 L101.9,381.7 L102.5,382.1 L103.0,381.9 L103.5,381.7 L104.1,382.1 L104.6,381.6 L105.1,381.2 L105.7,381.5 L106.2,381.9 L106.7,381.9 L107.3,381.8 L107.8,381.8 L108.3,381.6 L108.9,381.6 L109.4,381.6 L109.9,381.7 L110.5,381.8 L111.0,382.0 L111.5,381.9 L112.1,381.6 L112.6,381.4 L113.1,381.3 L113.7,382.0 L114.2,381.8 L114.7,381.6 L115.3,382.0 L115.8,381.9 L116.3,381.5 L116.9,381.2 L117.4,381.5 L117.9,381.7 L118.5,381.6 L119.0,381.7 L119.5,381.8 L120.1,381.8 L120.6,381.7 L121.1,381.5 L121.7,381.8 L122.2,381.9 L122.7,381.6 L123.3,381.4 L123.8,381.5 L124.3,381.8 L124.9,381.7 L125.4,381.7 L125.9,381.8 L126.5,381.9 L127.0,381.9 L127.5,381.9 L128.1,381.9 L128.6,381.9 L129.1,381.9 L129.7,382.0 L130.2,381.7 L130.7,381.5 L131.3,381.6 L131.8,381.8 L132.3,381.7 L132.9,381.6 L133.4,381.7 L133.9,381.7 L134.5,381.7 L135.0,381.5 L135.5,381.6 L136.1,381.9 L136.6,381.7 L137.1,381.7 L137.7,381.6 L138.2,381.4 L138.7,381.3 L139.3,381.3 L139.8,381.6 L140.3,381.7 L140.9,381.7 L141.4,381.5 L141.9,381.5 L142.5,381.8 L143.0,381.9 L143.5,381.7 L144.1,381.7 L144.6,382.1 L145.1,381.9 L145.7,381.5 L146.2,381.5 L146.7,381.4 L147.3,381.4 L147.8,381.5 L148.3,381.6 L148.9,381.7 L149.4,382.0 L149.9,382.2 L150.5,381.9 L151.0,381.5 L151.5,381.5 L152.1,381.7 L152.6,381.6 L153.1,381.5 L153.7,381.6 L154.2,381.7 L154.7,381.8 L155.3,381.9 L155.8,381.7 L156.3,381.3 L156.9,381.1 L157.4,381.4 L157.9,381.6 L158.5,381.6 L159.0,381.6 L159.5,381.5 L160.1,381.4 L160.6,381.6 L161.1,381.5 L161.7,381.4 L162.2,381.8 L162.7,381.4 L163.3,381.4 L163.8,381.7 L164.3,381.7 L164.9,381.5 L165.4,381.8 L165.9,381.9 L166.5,381.8 L167.0,381.6 L167.5,381.1 L168.1,381.2 L168.6,381.6 L169.1,381.5 L169.7,381.1 L170.2,381.2 L170.7,381.6 L171.3,381.4 L171.8,381.6 L172.3,381.8 L172.9,381.6 L173.4,381.6 L173.9,381.4 L174.5,381.4 L175.0,381.8 L175.5,381.9 L176.1,381.8 L176.6,381.5 L177.1,381.4 L177.7,381.4 L178.2,381.7 L178.7,381.7 L179.3,381.6 L179.8,381.5 L180.3,381.4 L180.9,381.7 L181.4,381.7 L181.9,381.5 L182.5,381.4 L183.0,381.2 L183.5,381.0 L184.1,381.6 L184.6,381.7 L185.1,381.4 L185.7,381.3 L186.2,381.4 L186.7,381.4 L187.3,381.7 L187.8,382.0 L188.3,381.7 L188.9,381.5 L189.4,381.6 L189.9,381.5 L190.5,381.7 L191.0,382.1 L191.5,381.7 L192.1,381.6 L192.6,381.7 L193.1,381.4 L193.7,381.4 L194.2,381.6 L194.7,381.5 L195.3,381.8 L195.8,381.5 L196.3,381.2 L196.9,381.6 L197.4,381.5 L197.9,381.5 L198.5,381.8 L199.0,381.8 L199.5,381.8 L200.1,381.7 L200.6,381.6 L201.1,381.6 L201.7,381.6 L202.2,381.4 L202.7,381.4 L203.3,381.4 L203.8,381.5 L204.3,381.6 L204.9,381.9 L205.4,381.8 L205.9,381.7 L206.5,381.7 L207.0,381.5 L207.5,381.5 L208.1,381.5 L208.6,381.4 L209.1,381.6 L209.7,381.6 L210.2,381.3 L210.7,381.3 L211.3,381.3 L211.8,381.4 L212.3,381.6 L212.9,381.3 L213.4,381.2 L213.9,381.4 L214.5,381.3 L215.0,381.5 L215.5,381.7 L216.1,381.5 L216.6,381.5 L217.1,381.3 L217.7,381.2 L218.2,381.3 L218.7,381.5 L219.3,381.6 L219.8,381.5 L220.3,381.4 L220.9,381.4 L221.4,381.4 L221.9,381.4 L222.5,381.1 L223.0,381.2 L223.5,381.6 L224.1,381.4 L224.6,381.1 L225.1,381.3 L225.7,381.3 L226.2,381.7 L226.7,381.7 L227.3,381.5 L227.8,381.2 L228.3,381.1 L228.9,381.2 L229.4,381.3 L229.9,381.6 L230.5,381.6 L231.0,381.7 L231.5,381.7 L232.1,381.4 L232.6,381.5 L233.1,381.7 L233.7,381.3 L234.2,381.3 L234.7,381.4 L235.3,381.4 L235.8,381.4 L236.3,381.7 L236.9,381.5 L237.4,381.2 L237.9,381.5 L238.5,381.6 L239.0,381.5 L239.5,381.4 L240.1,381.5 L240.6,381.8 L241.1,381.8 L241.7,381.5 L242.2,381.5 L242.7,381.6 L243.3,381.6 L243.8,381.6 L244.3,381.5 L244.9,381.6 L245.4,381.4 L245.9,381.3 L246.5,381.6 L247.0,381.2 L247.5,381.2 L248.1,381.7 L248.6,381.9 L249.1,381.5 L249.7,381.2 L250.2,381.4 L250.7,381.2 L251.3,381.3 L251.8,381.3 L252.3,381.1 L252.9,381.2 L253.4,381.3 L253.9,381.3 L254.5,381.4 L255.0,381.2 L255.5,381.1 L256.1,381.3 L256.6,381.6 L257.1,381.8 L257.7,381.6 L258.2,381.5 L258.7,381.4 L259.3,381.3 L259.8,381.4 L260.3,381.4 L260.9,381.3 L261.4,381.2 L261.9,381.5 L262.5,381.5 L263.0,381.0 L263.5,380.9 L264.1,381.3 L264.6,381.6 L265.1,381.5 L265.7,381.2 L266.2,381.1 L266.7,381.6 L267.3,382.1 L267.8,381.8 L268.3,381.0 L268.9,381.3 L269.4,381.7 L269.9,381.4 L270.5,381.3 L271.0,381.2 L271.5,381.4 L272.1,381.6 L272.6,381.4 L273.1,381.3 L273.7,381.1 L274.2,381.1 L274.7,381.3 L275.3,381.6 L275.8,381.6 L276.3,381.4 L276.9,381.4 L277.4,381.5 L277.9,381.5 L278.5,381.5 L279.0,381.3 L279.5,381.1 L280.1,381.4 L280.6,381.3 L281.1,381.3 L281.7,381.2 L282.2,381.0 L282.7,380.7 L283.3,380.5 L283.8,380.7 L284.3,380.5 L284.9,380.2 L285.4,380.0 L285.9,380.1 L286.5,379.7 L287.0,378.3 L287.5,376.4 L288.1,373.9 L288.6,370.1 L289.1,365.8 L289.7,364.5 L290.2,367.4 L290.7,371.4 L291.3,374.9 L291.8,377.2 L292.3,378.6 L292.9,379.4 L293.4,379.8 L293.9,380.2 L294.5,380.6 L295.0,380.8 L295.5,380.7 L296.1,380.6 L296.6,380.8 L297.1,380.9 L297.7,380.9 L298.2,380.9 L298.7,381.2 L299.3,381.5 L299.8,381.5 L300.3,381.7 L300.9,381.5 L301.4,381.2 L301.9,381.3 L302.5,381.3 L303.0,381.3 L303.5,381.1 L304.1,381.1 L304.6,381.1 L305.1,380.7 L305.7,381.1 L306.2,381.3 L306.7,381.3 L307.3,381.1 L307.8,381.0 L308.3,381.0 L308.9,381.1 L309.4,381.4 L309.9,381.4 L310.5,381.4 L311.0,381.2 L311.5,381.2 L312.1,381.2 L312.6,381.1 L313.1,381.2 L313.7,381.4 L314.2,381.5 L314.7,381.5 L315.3,381.4 L315.8,381.2 L316.3,381.0 L316.9,381.3 L317.4,381.3 L317.9,381.3 L318.5,381.3 L319.0,381.4 L319.5,381.4 L320.1,381.2 L320.6,381.3 L321.1,381.2 L321.7,381.4 L322.2,381.4 L322.7,381.2 L323.3,381.1 L323.8,381.0 L324.3,381.0 L324.9,381.0 L325.4,381.3 L325.9,381.3 L326.5,381.3 L327.0,381.5 L327.5,381.3 L328.1,381.3 L328.6,381.3 L329.1,381.0 L329.7,381.1 L330.2,381.3 L330.7,381.4 L331.3,380.8 L331.8,380.7 L332.3,381.0 L332.9,380.9 L333.4,380.7 L333.9,380.8 L334.5,381.0 L335.0,380.9 L335.5,380.8 L336.1,380.8 L336.6,380.9 L337.1,380.5 L337.7,380.1 L338.2,379.6 L338.7,379.2 L339.3,378.9 L339.8,377.9 L340.3,376.7 L340.9,374.5 L341.4,370.6 L341.9,365.1 L342.5,357.8 L343.0,353.0 L343.5,355.7 L344.1,362.7 L344.6,368.7 L345.1,373.0 L345.7,375.9 L346.2,377.7 L346.7,378.6 L347.3,379.1 L347.8,379.6 L348.3,379.9 L348.9,379.9 L349.4,380.4 L349.9,380.7 L350.5,380.5 L351.0,380.6 L351.5,380.9 L352.1,380.7 L352.6,380.7 L353.1,380.9 L353.7,381.0 L354.2,381.1 L354.7,381.1 L355.3,381.1 L355.8,381.3 L356.3,381.5 L356.9,381.4 L357.4,381.2 L357.9,381.2 L358.5,381.1 L359.0,381.0 L359.5,381.0 L360.1,381.0 L360.6,381.4 L361.1,381.4 L361.7,380.9 L362.2,381.0 L362.7,381.2 L363.3,381.4 L363.8,381.3 L364.3,381.3 L364.9,381.6 L365.4,381.4 L365.9,381.1 L366.5,381.1 L367.0,381.3 L367.5,381.3 L368.1,381.1 L368.6,380.9 L369.1,381.2 L369.7,381.3 L370.2,381.2 L370.7,381.0 L371.3,381.1 L371.8,381.4 L372.3,381.3 L372.9,381.2 L373.4,381.5 L373.9,381.5 L374.5,381.3 L375.0,381.3 L375.5,381.3 L376.1,381.2 L376.6,381.0 L377.1,380.9 L377.7,381.0 L378.2,381.2 L378.7,381.3 L379.3,381.3 L379.8,381.4 L380.3,381.2 L380.9,380.8 L381.4,380.8 L381.9,381.1 L382.5,381.1 L383.0,381.0 L383.5,381.1 L384.1,381.3 L384.6,381.2 L385.1,380.9 L385.7,381.0 L386.2,381.5 L386.7,381.4 L387.3,381.1 L387.8,381.3 L388.3,381.5 L388.9,381.8 L389.4,381.8 L389.9,381.4 L390.5,381.2 L391.0,381.2 L391.5,381.4 L392.1,381.4 L392.6,381.3 L393.1,381.1 L393.7,381.1 L394.2,381.1 L394.7,381.4 L395.3,381.5 L395.8,381.2 L396.3,381.3 L396.9,381.3 L397.4,381.3 L397.9,381.5 L398.5,381.6 L399.0,381.3 L399.5,381.1 L400.1,381.0 L400.6,381.0 L401.1,381.0 L401.7,381.3 L402.2,381.4 L402.7,381.3 L403.3,381.0 L403.8,381.0 L404.3,381.5 L404.9,381.5 L405.4,381.2 L405.9,381.2 L406.5,381.2 L407.0,381.2 L407.5,381.1 L408.1,381.3 L408.6,381.5 L409.1,381.2 L409.7,381.2 L410.2,381.4 L410.7,381.1 L411.3,381.2 L411.8,381.5 L412.3,381.2 L412.9,380.8 L413.4,381.0 L413.9,381.4 L414.5,381.6 L415.0,381.5 L415.5,381.3 L416.1,381.0 L416.6,380.9 L417.1,380.9 L417.7,381.1 L418.2,381.2 L418.7,381.0 L419.3,381.0 L419.8,381.1 L420.3,381.2 L420.9,381.1 L421.4,380.8 L421.9,381.0 L422.5,381.2 L423.0,381.0 L423.5,380.8 L424.1,380.7 L424.6,380.9 L425.1,381.0 L425.7,381.2 L426.2,381.7 L426.7,381.5 L427.3,381.2 L427.8,381.3 L428.3,381.4 L428.9,381.2 L429.4,381.1 L429.9,381.1 L430.5,381.0 L431.0,381.0 L431.5,381.3 L432.1,381.2 L432.6,380.9 L433.1,381.1 L433.7,381.0 L434.2,380.9 L434.7,381.1 L435.3,381.2 L435.8,381.3 L436.3,381.2 L436.9,381.0 L437.4,380.9 L437.9,381.2 L438.5,381.7 L439.0,381.4 L439.5,381.2 L440.1,381.1 L440.6,381.3 L441.1,381.2 L441.7,381.2 L442.2,381.2 L442.7,381.0 L443.3,380.9 L443.8,381.2 L444.3,381.5 L444.9,381.2 L445.4,381.1 L445.9,381.3 L446.5,381.2 L447.0,381.0 L447.5,381.1 L448.1,380.9 L448.6,381.1 L449.1,381.0 L449.7,381.0 L450.2,381.1 L450.7,381.0 L451.3,381.2 L451.8,381.6 L452.3,381.5 L452.9,381.2 L453.4,381.0 L453.9,381.2 L454.5,381.4 L455.0,381.5 L455.5,381.3 L456.1,381.1 L456.6,381.1 L457.1,380.9 L457.7,381.0 L458.2,380.9 L458.7,381.0 L459.3,381.0 L459.8,380.8 L460.3,381.1 L460.9,381.2 L461.4,380.8 L461.9,381.0 L462.5,381.4 L463.0,381.3 L463.5,381.1 L464.1,381.1 L464.6,380.8 L465.1,380.9 L465.7,381.0 L466.2,381.1 L466.7,381.3 L467.3,381.3 L467.8,381.2 L468.3,381.0 L468.9,380.8 L469.4,381.0 L469.9,381.0 L470.5,381.1 L471.0,381.0 L471.5,381.1 L472.1,381.4 L472.6,381.1 L473.1,381.1 L473.7,381.3 L474.2,381.2 L474.7,381.1 L475.3,381.1 L475.8,381.2 L476.3,381.1 L476.9,380.8 L477.4,380.9 L477.9,380.9 L478.5,381.0 L479.0,381.1 L479.5,380.9 L480.1,381.1 L480.6,381.3 L481.1,381.1 L481.7,381.1 L482.2,381.1 L482.7,381.5 L483.3,381.4 L483.8,381.0 L484.3,380.9 L484.9,380.8 L485.4,381.0 L485.9,381.2 L486.5,381.2 L487.0,381.2 L487.5,381.2 L488.1,381.0 L488.6,380.8 L489.1,380.9 L489.7,381.0 L490.2,381.1 L490.7,381.0 L491.3,381.1 L491.8,381.1 L492.3,380.8 L492.9,381.0 L493.4,381.1 L493.9,381.1 L494.5,380.9 L495.0,380.7 L495.5,380.8 L496.1,380.9 L496.6,381.2 L497.1,381.1 L497.7,380.8 L498.2,380.6 L498.7,380.6 L499.3,380.9 L499.8,380.9 L500.3,380.7 L500.9,380.9 L501.4,381.0 L501.9,380.9 L502.5,381.0 L503.0,380.8 L503.5,380.7 L504.1,380.8 L504.6,380.7 L505.1,380.7 L505.7,380.9 L506.2,381.0 L506.7,380.9 L507.3,380.6 L507.8,380.6 L508.3,380.9 L508.9,380.8 L509.4,380.4 L509.9,380.5 L510.5,380.5 L511.0,380.3 L511.5,380.2 L512.1,379.9 L512.6,379.5 L513.1,379.3 L513.6,379.1 L514.2,378.2 L514.7,376.4 L515.2,374.5 L515.8,372.9 L516.3,371.4 L516.8,370.2 L517.4,370.5 L517.9,372.1 L518.4,373.9 L519.0,375.7 L519.5,377.3 L520.0,378.4 L520.6,379.1 L521.1,379.6 L521.6,379.8 L522.2,379.9 L522.7,380.0 L523.2,380.1 L523.8,380.4 L524.3,380.5 L524.8,380.5 L525.4,380.6 L525.9,380.6 L526.4,380.4 L527.0,380.9 L527.5,381.2 L528.0,380.9 L528.6,380.8 L529.1,380.5 L529.6,380.7 L530.2,381.0 L530.7,380.9 L531.2,380.8 L531.8,380.6 L532.3,380.7 L532.8,381.1 L533.4,380.9 L533.9,380.6 L534.4,381.1 L535.0,381.2 L535.5,381.1 L536.0,380.9 L536.6,380.8 L537.1,380.8 L537.6,381.0 L538.2,381.1 L538.7,381.1 L539.2,380.9 L539.8,380.9 L540.3,381.2 L540.8,381.4 L541.4,381.0 L541.9,380.6 L542.4,380.6 L543.0,381.1 L543.5,381.5 L544.0,381.1 L544.6,380.9 L545.1,380.9 L545.6,380.7 L546.2,380.8 L546.7,380.9 L547.2,380.8 L547.8,381.0 L548.3,381.3 L548.8,381.4 L549.4,380.9 L549.9,380.7 L550.4,380.8 L551.0,380.8 L551.5,380.9 L552.0,380.9 L552.6,380.8 L553.1,380.9 L553.6,381.0 L554.2,381.1 L554.7,381.0 L555.2,380.9 L555.8,380.8 L556.3,380.8 L556.8,381.1 L557.4,381.3 L557.9,381.1 L558.4,380.5 L559.0,380.6 L559.5,381.3 L560.0,381.1 L560.6,380.9 L561.1,380.9 L561.6,380.8 L562.2,380.8 L562.7,380.8 L563.2,381.0 L563.8,380.8 L564.3,380.8 L564.8,380.8 L565.4,380.9 L565.9,381.0 L566.4,381.0 L567.0,380.9 L567.5,380.9 L568.0,381.1 L568.6,380.9 L569.1,380.8 L569.6,380.9 L570.2,381.1 L570.7,381.1 L571.2,380.9 L571.8,380.8 L572.3,380.9 L572.8,381.0 L573.4,381.1 L573.9,381.2 L574.4,381.1 L575.0,381.0 L575.5,380.9 L576.0,380.7 L576.6,380.6 L577.1,380.9 L577.6,381.2 L578.2,381.4 L578.7,381.0 L579.2,380.9 L579.8,380.9 L580.3,380.9 L580.8,380.9 L581.4,381.0 L581.9,381.0 L582.4,380.8 L583.0,380.7 L583.5,380.9 L584.0,381.2 L584.6,381.0 L585.1,380.8 L585.6,380.8 L586.2,381.0 L586.7,381.0 L587.2,380.8 L587.8,381.1 L588.3,381.1 L588.8,380.8 L589.4,380.8 L589.9,380.9 L590.4,380.9 L591.0,380.9 L591.5,380.8 L592.0,380.7 L592.6,381.1 L593.1,381.3 L593.6,381.2 L594.2,381.0 L594.7,380.8 L595.2,381.2 L595.8,381.1 L596.3,380.6 L596.8,380.8 L597.4,380.8 L597.9,380.8 L598.4,381.0 L599.0,381.0 L599.5,380.7 L600.0,380.5 L600.6,380.6 L601.1,380.9 L601.6,381.0 L602.2,381.0 L602.7,381.0 L603.2,380.8 L603.8,380.6 L604.3,380.7 L604.8,380.8 L605.4,380.8 L605.9,381.0 L606.4,380.8 L607.0,380.6 L607.5,380.6 L608.0,380.5 L608.6,380.9 L609.1,381.1 L609.6,380.8 L610.2,380.6 L610.7,380.6 L611.2,380.7 L611.8,380.7 L612.3,380.8 L612.8,381.0 L613.4,381.0 L613.9,380.8 L614.4,380.6 L615.0,380.6 L615.5,380.7 L616.0,381.2 L616.6,381.2 L617.1,380.8 L617.6,380.7 L618.2,380.6 L618.7,380.4 L619.2,380.6 L619.8,380.6 L620.3,380.7 L620.8,380.7 L621.4,380.7 L621.9,380.7 L622.4,380.7 L623.0,380.6 L623.5,379.9 L624.0,379.8 L624.6,379.8 L625.1,379.3 L625.6,379.5 L626.2,379.5 L626.7,378.7 L627.2,378.1 L627.8,377.7 L628.3,376.9 L628.8,376.6 L629.4,377.3 L629.9,378.1 L630.4,378.6 L631.0,378.9 L631.5,379.3 L632.0,379.4 L632.6,379.9 L633.1,380.1 L633.6,380.0 L634.2,380.2 L634.7,380.2 L635.2,380.6 L635.8,380.7 L636.3,380.6 L636.8,380.5 L637.4,380.1 L637.9,379.9 L638.4,380.4 L639.0,380.8 L639.5,380.8 L640.0,380.6 L640.6,380.8 L641.1,380.9 L641.6,380.5 L642.2,380.6 L642.7,381.0 L643.2,380.8 L643.8,380.4 L644.3,380.5 L644.8,380.7 L645.4,380.5 L645.9,380.5 L646.4,380.7 L647.0,380.9 L647.5,380.8 L648.0,380.7 L648.6,380.5 L649.1,380.7 L649.6,380.8 L650.2,380.7 L650.7,381.0 L651.2,380.9 L651.8,380.6 L652.3,380.8 L652.8,381.1 L653.4,380.8 L653.9,380.3 L654.4,380.4 L655.0,380.6 L655.5,380.5 L656.0,380.6 L656.6,380.7 L657.1,380.5 L657.6,380.5 L658.2,380.4 L658.7,380.2 L659.2,380.0 L659.8,380.3 L660.3,380.1 L660.8,379.7 L661.4,379.5 L661.9,379.3 L662.4,379.2 L663.0,378.5 L663.5,377.9 L664.0,377.7 L664.6,377.6 L665.1,377.7 L665.6,378.4 L666.2,378.9 L666.7,379.1 L667.2,379.1" fill="none" stroke="#6b10e6" stroke-width="2.7" stroke-linejoin="round" stroke-linecap="butt"/>
<path d="M45.4,457.4 L46.0,456.6 L46.6,455.5 L47.3,455.1 L47.9,456.0 L48.5,455.9 L49.1,455.1 L49.8,455.3 L50.4,455.3 L51.0,456.2 L51.6,456.8 L52.2,455.8 L52.9,457.1 L53.5,457.3 L54.1,455.2 L54.7,456.1 L55.4,456.1 L56.0,455.8 L56.6,456.9 L57.2,457.0 L57.8,456.0 L58.5,455.8 L59.1,456.5 L59.7,456.2 L60.3,455.3 L61.0,455.0 L61.6,455.3 L62.2,455.1 L62.8,455.6 L63.4,456.6 L64.1,456.9 L64.7,456.6 L65.3,455.7 L65.9,455.6 L66.6,456.2 L67.2,455.4 L67.8,455.5 L68.4,456.3 L69.0,456.7 L69.7,455.3 L70.3,452.9 L70.9,453.1 L71.5,452.9 L72.2,452.9 L72.8,453.1 L73.4,452.4 L74.0,451.1 L74.6,450.1 L75.3,449.6 L75.9,449.4 L76.5,449.6 L77.1,448.3 L77.8,446.9 L78.4,446.4 L79.0,446.6 L79.6,446.4 L80.2,446.8 L80.9,447.4 L81.5,446.4 L82.1,446.4 L82.7,447.4 L83.4,447.5 L84.0,446.1 L84.6,446.1 L85.2,447.1 L85.8,447.2 L86.5,446.4 L87.1,446.7 L87.7,447.8 L88.3,447.6 L89.0,448.4 L89.6,449.3 L90.2,450.7 L90.8,450.8 L91.4,449.3 L92.1,449.7 L92.7,450.1 L93.3,450.4 L93.9,451.4 L94.6,452.4 L95.2,453.3 L95.8,453.1 L96.4,452.7 L97.0,453.8 L97.7,455.4 L98.3,455.2 L98.9,454.7 L99.5,454.5 L100.2,453.7 L100.8,454.5 L101.4,454.5 L102.0,454.0 L102.6,455.1 L103.3,456.5 L103.9,455.8 L104.5,454.0 L105.1,454.6 L105.8,455.3 L106.4,455.8 L107.0,457.2 L107.6,457.4 L108.2,457.2 L108.9,457.6 L109.5,457.3 L110.1,456.9 L110.7,456.1 L111.4,455.1 L112.0,455.5 L112.6,455.8 L113.2,455.9 L113.8,456.5 L114.5,456.1 L115.1,456.3 L115.7,456.4 L116.3,456.3 L117.0,456.9 L117.6,457.0 L118.2,455.7 L118.8,455.2 L119.4,456.3 L120.1,456.3 L120.7,456.5 L121.3,456.9 L121.9,456.6 L122.6,457.3 L123.2,457.2 L123.8,456.1 L124.4,455.8 L125.0,456.1 L125.7,455.7 L126.3,456.1 L126.9,456.1 L127.5,455.1 L128.2,455.6 L128.8,455.3 L129.4,455.8 L130.0,456.5 L130.6,456.2 L131.3,456.7 L131.9,456.8 L132.5,456.2 L133.1,455.8 L133.8,455.7 L134.4,456.2 L135.0,456.6 L135.6,456.3 L136.2,456.6 L136.9,456.6 L137.5,457.3 L138.1,458.0 L138.7,457.1 L139.4,456.7 L140.0,456.1 L140.6,456.2 L141.2,455.6 L141.8,456.1 L142.5,456.0 L143.1,455.7 L143.7,457.3 L144.3,457.2 L145.0,456.9 L145.6,456.7 L146.2,456.6 L146.8,456.2 L147.4,455.6 L148.1,456.4 L148.7,456.1 L149.3,455.4 L149.9,456.1 L150.6,455.8 L151.2,455.8 L151.8,455.5 L152.4,456.1 L153.0,456.2 L153.7,455.8 L154.3,456.1 L154.9,456.1 L155.5,455.6 L156.2,455.1 L156.8,455.6 L157.4,456.4 L158.0,457.6 L158.6,456.9 L159.3,455.3 L159.9,455.3 L160.5,456.9 L161.1,456.1 L161.8,455.6 L162.4,456.1 L163.0,456.2 L163.6,457.0 L164.2,456.4 L164.9,457.4 L165.5,458.1 L166.1,457.0 L166.7,456.7 L167.4,457.3 L168.0,456.5 L168.6,455.8 L169.2,456.4 L169.8,457.3 L170.5,457.3 L171.1,456.0 L171.7,455.5 L172.3,455.5 L173.0,456.0 L173.6,456.4 L174.2,456.3 L174.8,455.8 L175.4,456.1 L176.1,456.5 L176.7,456.2 L177.3,456.2 L177.9,456.3 L178.6,456.1 L179.2,456.7 L179.8,456.0 L180.4,455.2 L181.0,456.4 L181.7,457.3 L182.3,457.0 L182.9,456.9 L183.5,457.1 L184.2,456.7 L184.8,456.4 L185.4,457.0 L186.0,456.0 L186.6,455.7 L187.3,456.3 L187.9,456.8 L188.5,457.6 L189.1,457.4 L189.8,456.4 L190.4,455.5 L191.0,456.1 L191.6,456.6 L192.2,456.3 L192.9,456.6 L193.5,456.9 L194.1,456.0 L194.7,456.3 L195.4,456.5 L196.0,456.0 L196.6,456.3 L197.2,456.3 L197.8,456.0 L198.5,455.4 L199.1,455.6 L199.7,456.9 L200.3,457.1 L201.0,455.7 L201.6,456.2 L202.2,457.6 L202.8,457.2 L203.4,456.0 L204.1,456.6 L204.7,456.8 L205.3,456.3 L205.9,456.5 L206.5,456.1 L207.2,456.2 L207.8,456.7 L208.4,456.5 L209.0,455.4 L209.7,455.2 L210.3,455.7 L210.9,456.4 L211.5,457.1 L212.1,457.3 L212.8,456.5 L213.4,455.3 L214.0,455.6 L214.6,455.7 L215.3,456.1 L215.9,456.7 L216.5,455.9 L217.1,455.9 L217.7,456.0 L218.4,454.9 L219.0,456.0 L219.6,457.4 L220.2,455.9 L220.9,454.9 L221.5,455.0 L222.1,454.6 L222.7,455.6 L223.3,455.4 L224.0,454.5 L224.6,455.0 L225.2,455.6 L225.8,456.3 L226.5,456.9 L227.1,457.4 L227.7,457.4 L228.3,457.1 L228.9,456.6 L229.6,456.5 L230.2,457.5 L230.8,457.1 L231.4,457.2 L232.1,457.5 L232.7,456.1 L233.3,456.7 L233.9,457.7 L234.5,456.9 L235.2,455.6 L235.8,455.6 L236.4,456.6 L237.0,456.4 L237.7,457.0 L238.3,457.9 L238.9,456.7 L239.5,455.5 L240.1,455.5 L240.8,455.8 L241.4,455.8 L242.0,456.6 L242.6,457.3 L243.3,456.3 L243.9,455.0 L244.5,454.2 L245.1,454.1 L245.7,454.0 L246.4,453.0 L247.0,451.1 L247.6,449.5 L248.2,448.2 L248.9,445.7 L249.5,444.4 L250.1,443.1 L250.7,441.4 L251.3,440.9 L252.0,438.5 L252.6,437.1 L253.2,437.3 L253.8,437.2 L254.5,436.6 L255.1,437.9 L255.7,440.4 L256.3,440.3 L256.9,441.2 L257.6,441.4 L258.2,442.5 L258.8,444.6 L259.4,444.0 L260.1,444.7 L260.7,446.0 L261.3,447.1 L261.9,447.4 L262.5,446.7 L263.2,447.2 L263.8,448.6 L264.4,448.1 L265.0,447.5 L265.7,448.2 L266.3,449.1 L266.9,450.1 L267.5,449.7 L268.1,449.4 L268.8,450.4 L269.4,450.7 L270.0,450.5 L270.6,450.1 L271.3,450.5 L271.9,451.3 L272.5,451.9 L273.1,452.0 L273.7,451.6 L274.4,451.3 L275.0,451.3 L275.6,451.8 L276.2,451.9 L276.9,451.3 L277.5,451.3 L278.1,451.7 L278.7,451.7 L279.3,451.8 L280.0,451.5 L280.6,450.9 L281.2,451.2 L281.8,451.6 L282.5,451.2 L283.1,450.6 L283.7,450.0 L284.3,451.0 L284.9,451.2 L285.6,450.7 L286.2,450.7 L286.8,449.9 L287.4,449.2 L288.1,449.8 L288.7,450.1 L289.3,451.0 L289.9,451.4 L290.5,451.2 L291.2,451.5 L291.8,450.9 L292.4,451.1 L293.0,450.5 L293.7,450.2 L294.3,450.7 L294.9,450.4 L295.5,450.0 L296.1,449.3 L296.8,449.1 L297.4,449.8 L298.0,450.4 L298.6,449.5 L299.3,448.5 L299.9,448.4 L300.5,448.8 L301.1,448.5 L301.7,447.8 L302.4,447.2 L303.0,447.7 L303.6,448.4 L304.2,447.3 L304.9,447.9 L305.5,448.7 L306.1,448.9 L306.7,449.0 L307.3,448.4 L308.0,448.2 L308.6,449.1 L309.2,448.0 L309.8,447.9 L310.5,448.6 L311.1,448.3 L311.7,448.6 L312.3,448.4 L312.9,448.4 L313.6,448.4 L314.2,448.0 L314.8,448.9 L315.4,450.5 L316.1,451.2 L316.7,451.7 L317.3,450.7 L317.9,450.6 L318.5,451.8 L319.2,451.0 L319.8,450.4 L320.4,450.6 L321.0,452.0 L321.7,452.9 L322.3,452.4 L322.9,451.9 L323.5,451.3 L324.1,451.2 L324.8,450.7 L325.4,449.3 L326.0,450.3 L326.6,451.9 L327.3,451.3 L327.9,451.9 L328.5,453.0 L329.1,452.6 L329.7,451.8 L330.4,452.1 L331.0,453.0 L331.6,454.6 L332.2,454.9 L332.9,453.3 L333.5,452.2 L334.1,453.5 L334.7,454.1 L335.3,453.0 L336.0,452.6 L336.6,453.9 L337.2,454.7 L337.8,454.4 L338.5,455.0 L339.1,454.1 L339.7,454.6 L340.3,455.4 L340.9,454.0 L341.6,454.1 L342.2,454.3 L342.8,455.8 L343.4,456.2 L344.1,454.9 L344.7,454.9 L345.3,455.8 L345.9,456.1 L346.5,455.9 L347.2,455.1 L347.8,455.1 L348.4,455.9 L349.0,455.7 L349.7,455.8 L350.3,454.9 L350.9,454.1 L351.5,454.8 L352.1,455.7 L352.8,456.2 L353.4,457.0 L354.0,456.8 L354.6,455.7 L355.3,455.8 L355.9,456.5 L356.5,455.8 L357.1,455.0 L357.7,455.5 L358.4,455.1 L359.0,455.1 L359.6,455.0 L360.2,455.2 L360.9,456.1 L361.5,456.3 L362.1,455.9 L362.7,455.9 L363.3,456.1 L364.0,455.8 L364.6,456.4 L365.2,455.4 L365.8,454.4 L366.5,455.7 L367.1,455.8 L367.7,455.5 L368.3,456.2 L368.9,455.4 L369.6,454.8 L370.2,455.4 L370.8,455.6 L371.4,455.5 L372.1,455.4 L372.7,455.6 L373.3,455.9 L373.9,456.0 L374.5,456.9 L375.2,457.0 L375.8,455.6 L376.4,454.7 L377.0,455.3 L377.7,456.5 L378.3,456.0 L378.9,456.1 L379.5,457.1 L380.1,457.4 L380.8,458.0 L381.4,456.3 L382.0,455.2 L382.6,457.6 L383.3,458.1 L383.9,457.5 L384.5,456.6 L385.1,456.1 L385.7,456.9 L386.4,456.3 L387.0,455.0 L387.6,455.8 L388.2,456.6 L388.9,456.7 L389.5,456.2 L390.1,455.6 L390.7,456.0 L391.3,456.6 L392.0,455.9 L392.6,455.6 L393.2,455.8 L393.8,455.0 L394.5,456.2 L395.1,456.9 L395.7,456.2 L396.3,456.6 L396.9,456.8 L397.6,456.1 L398.2,456.9 L398.8,457.2 L399.4,456.2 L400.1,456.3 L400.7,456.8 L401.3,457.3 L401.9,456.9 L402.5,456.1 L403.2,456.2 L403.8,455.6 L404.4,455.5 L405.0,456.4 L405.7,455.5 L406.3,454.9 L406.9,455.3 L407.5,455.0 L408.1,455.8 L408.8,457.0 L409.4,455.8 L410.0,456.3 L410.6,457.5 L411.3,455.6 L411.9,455.7 L412.5,456.1 L413.1,456.2 L413.7,455.4 L414.4,455.0 L415.0,455.8 L415.6,456.4 L416.2,456.5 L416.9,455.4 L417.5,456.0 L418.1,456.0 L418.7,455.9 L419.3,456.0 L420.0,456.2 L420.6,456.6 L421.2,457.0 L421.8,456.5 L422.5,456.0 L423.1,456.6 L423.7,455.6 L424.3,455.2 L424.9,456.1 L425.6,456.5 L426.2,456.0 L426.8,455.5 L427.4,456.4 L428.1,456.6 L428.7,455.8 L429.3,455.6 L429.9,455.3 L430.5,454.8 L431.2,454.3 L431.8,455.1 L432.4,456.3 L433.0,456.1 L433.7,456.1 L434.3,456.0 L434.9,456.0 L435.5,455.5 L436.1,456.0 L436.8,456.4 L437.4,455.4 L438.0,454.9 L438.6,455.2 L439.3,455.5 L439.9,455.4 L440.5,455.3 L441.1,455.4 L441.7,455.2 L442.4,454.4 L443.0,453.7 L443.6,454.5 L444.2,455.1 L444.9,454.7 L445.5,454.9 L446.1,455.2 L446.7,455.4 L447.3,454.8 L448.0,454.8 L448.6,455.2 L449.2,454.6 L449.8,454.2 L450.5,454.9 L451.1,454.9 L451.7,454.9 L452.3,455.2 L452.9,454.7 L453.6,454.4 L454.2,455.2 L454.8,454.5 L455.4,453.9 L456.1,455.1 L456.7,454.9 L457.3,454.4 L457.9,454.1 L458.5,454.2 L459.2,454.3 L459.8,454.4 L460.4,454.7 L461.0,453.6 L461.7,452.9 L462.3,451.9 L462.9,451.7 L463.5,452.1 L464.1,452.1 L464.8,451.0 L465.4,450.0 L466.0,451.1 L466.6,450.6 L467.3,449.7 L467.9,448.2 L468.5,447.0 L469.1,448.0 L469.7,447.7 L470.4,446.6 L471.0,446.7 L471.6,446.7 L472.2,446.3 L472.9,446.2 L473.5,445.6 L474.1,445.1 L474.7,445.0 L475.3,444.7 L476.0,444.9 L476.6,443.6 L477.2,443.1 L477.8,443.7 L478.5,442.5 L479.1,442.8 L479.7,444.6 L480.3,445.4 L480.9,445.8 L481.6,444.6 L482.2,444.6 L482.8,446.0 L483.4,445.2 L484.1,444.2 L484.7,443.4 L485.3,444.1 L485.9,444.4 L486.5,445.0 L487.2,445.2 L487.8,444.2 L488.4,445.7 L489.0,445.6 L489.7,445.3 L490.3,445.9 L490.9,446.3 L491.5,446.3 L492.1,446.3 L492.8,447.6 L493.4,448.7 L494.0,448.9 L494.6,448.2 L495.3,447.7 L495.9,448.2 L496.5,448.9 L497.1,449.5 L497.7,449.5 L498.4,448.9 L499.0,448.9 L499.6,448.7 L500.2,448.4 L500.9,449.6 L501.5,449.4 L502.1,448.6 L502.7,449.9 L503.3,450.6 L504.0,450.7 L504.6,451.3 L505.2,452.0 L505.8,451.9 L506.5,451.9 L507.1,453.5 L507.7,453.1 L508.3,452.8 L508.9,453.0 L509.6,452.3 L510.2,453.0 L510.8,452.5 L511.4,452.7 L512.1,453.7 L512.7,453.2 L513.3,452.7 L513.9,453.3 L514.5,453.9 L515.2,454.0 L515.8,453.6 L516.4,453.0 L517.0,452.9 L517.6,453.2 L518.3,454.2 L518.9,453.9 L519.5,452.1 L520.1,451.7 L520.8,453.7 L521.4,454.2 L522.0,453.8 L522.6,454.3 L523.2,454.4 L523.9,454.8 L524.5,455.5 L525.1,454.9 L525.7,454.7 L526.4,455.3 L527.0,455.0 L527.6,454.7 L528.2,454.8 L528.8,455.0 L529.5,455.0 L530.1,454.9 L530.7,454.5 L531.3,453.9 L532.0,453.9 L532.6,454.9 L533.2,455.0 L533.8,454.2 L534.4,454.9 L535.1,455.7 L535.7,456.6 L536.3,455.5 L536.9,454.3 L537.6,454.4 L538.2,455.3 L538.8,457.3 L539.4,456.3 L540.0,455.6 L540.7,455.7 L541.3,455.7 L541.9,455.4 L542.5,455.2 L543.2,455.7 L543.8,455.3 L544.4,455.5 L545.0,455.9 L545.6,455.1 L546.3,454.9 L546.9,455.5 L547.5,455.2 L548.1,455.3 L548.8,455.3 L549.4,454.4 L550.0,454.1 L550.6,455.8 L551.2,457.5 L551.9,457.3 L552.5,457.4 L553.1,458.3 L553.7,457.7 L554.4,456.8 L555.0,456.2 L555.6,455.4 L556.2,454.4 L556.8,455.0 L557.5,456.5 L558.1,456.0 L558.7,455.1 L559.3,455.4 L560.0,456.4 L560.6,457.7 L561.2,456.8 L561.8,455.6 L562.4,455.2 L563.1,454.1 L563.7,454.0 L564.3,454.7 L564.9,455.2 L565.6,456.1 L566.2,456.3 L566.8,455.7 L567.4,455.4 L568.0,455.4 L568.7,455.9 L569.3,456.0 L569.9,454.8 L570.5,454.1 L571.2,455.4 L571.8,455.5 L572.4,455.6 L573.0,454.6 L573.6,453.3 L574.3,453.8 L574.9,454.3 L575.5,455.2 L576.1,454.7 L576.8,454.1 L577.4,454.0 L578.0,454.4 L578.6,455.4 L579.2,454.8 L579.9,454.8 L580.5,455.4 L581.1,455.3 L581.7,455.1 L582.4,455.7 L583.0,456.5 L583.6,455.9 L584.2,455.4 L584.8,455.8 L585.5,455.9 L586.1,455.9 L586.7,456.1 L587.3,455.0 L588.0,453.8 L588.6,454.8 L589.2,455.6 L589.8,455.6 L590.4,456.2 L591.1,456.2 L591.7,455.9 L592.3,456.4 L592.9,456.7 L593.6,456.8 L594.2,456.2 L594.8,455.9 L595.4,456.5 L596.0,456.3 L596.7,455.8 L597.3,456.1 L597.9,455.4 L598.5,455.5 L599.2,457.0 L599.8,456.8 L600.4,456.6 L601.0,456.2 L601.6,455.4 L602.3,456.0 L602.9,456.1 L603.5,456.1 L604.1,456.6 L604.8,457.3 L605.4,458.1 L606.0,457.4 L606.6,455.5 L607.2,455.9 L607.9,456.8 L608.5,456.5 L609.1,456.2 L609.7,456.3 L610.4,456.6 L611.0,456.0 L611.6,456.2 L612.2,456.5 L612.8,456.4 L613.5,456.0 L614.1,455.6 L614.7,455.5 L615.3,455.6 L616.0,456.4 L616.6,456.9 L617.2,456.1 L617.8,455.8 L618.4,455.6 L619.1,456.2 L619.7,457.0 L620.3,456.7 L620.9,455.9 L621.6,455.7 L622.2,456.1 L622.8,455.4 L623.4,454.9 L624.0,455.4 L624.7,454.8 L625.3,454.2 L625.9,454.1 L626.5,453.7 L627.2,454.2 L627.8,454.7 L628.4,454.6 L629.0,454.3 L629.6,454.5 L630.3,454.5 L630.9,455.0 L631.5,455.7 L632.1,454.9 L632.8,455.8 L633.4,457.2 L634.0,456.2 L634.6,455.3 L635.2,455.2 L635.9,455.2 L636.5,455.2 L637.1,455.9 L637.7,456.4 L638.4,455.9 L639.0,456.5 L639.6,457.4 L640.2,457.0 L640.8,455.8 L641.5,455.1 L642.1,456.1 L642.7,456.7 L643.3,456.1 L644.0,455.7 L644.6,455.1 L645.2,455.0 L645.8,455.4 L646.4,454.8 L647.1,453.7 L647.7,454.7 L648.3,455.3 L648.9,454.3 L649.6,454.1 L650.2,454.6 L650.8,455.1 L651.4,454.8 L652.0,455.2 L652.7,455.7 L653.3,454.4 L653.9,455.3 L654.5,455.6 L655.2,454.9 L655.8,456.0 L656.4,456.4 L657.0,455.4 L657.6,455.7 L658.3,456.6 L658.9,457.8 L659.5,458.4 L660.1,457.2 L660.8,456.5 L661.4,456.0 L662.0,455.5 L662.6,454.8 L663.2,454.9 L663.9,454.4 L664.5,454.4 L665.1,455.1 L665.7,455.9 L666.4,456.4 L667.0,455.5 L667.6,455.2" fill="none" stroke="#5f5f0a" stroke-width="3.1" stroke-linejoin="round" stroke-linecap="butt"/>
<rect x="45.4" y="2.3" width="622.2" height="489.6" fill="none" stroke="#050505" stroke-width="2.1"/>
<line x1="45.4" y1="491.9" x2="45.4" y2="501.2" stroke="#050505" stroke-width="2.1"/>
<text x="45.4" y="533.2" text-anchor="middle" font-family="'Liberation Sans', sans-serif" font-weight="bold" font-size="32" fill="#000">10</text>
<line x1="134.3" y1="491.9" x2="134.3" y2="501.2" stroke="#050505" stroke-width="2.1"/>
<text x="134.3" y="533.2" text-anchor="middle" font-family="'Liberation Sans', sans-serif" font-weight="bold" font-size="32" fill="#000">20</text>
<line x1="223.2" y1="491.9" x2="223.2" y2="501.2" stroke="#050505" stroke-width="2.1"/>
<text x="223.2" y="533.2" text-anchor="middle" font-family="'Liberation Sans', sans-serif" font-weight="bold" font-size="32" fill="#000">30</text>
<line x1="312.1" y1="491.9" x2="312.1" y2="501.2" stroke="#050505" stroke-width="2.1"/>
<text x="312.1" y="533.2" text-anchor="middle" font-family="'Liberation Sans', sans-serif" font-weight="bold" font-size="32" fill="#000">40</text>
<line x1="400.9" y1="491.9" x2="400.9" y2="501.2" stroke="#050505" stroke-width="2.1"/>
<text x="400.9" y="533.2" text-anchor="middle" font-family="'Liberation Sans', sans-serif" font-weight="bold" font-size="32" fill="#000">50</text>
<line x1="489.8" y1="491.9" x2="489.8" y2="501.2" stroke="#050505" stroke-width="2.1"/>
<text x="489.8" y="533.2" text-anchor="middle" font-family="'Liberation Sans', sans-serif" font-weight="bold" font-size="32" fill="#000">60</text>
<line x1="578.7" y1="491.9" x2="578.7" y2="501.2" stroke="#050505" stroke-width="2.1"/>
<text x="578.7" y="533.2" text-anchor="middle" font-family="'Liberation Sans', sans-serif" font-weight="bold" font-size="32" fill="#000">70</text>
<line x1="667.6" y1="491.9" x2="667.6" y2="501.2" stroke="#050505" stroke-width="2.1"/>
<text x="667.6" y="533.2" text-anchor="middle" font-family="'Liberation Sans', sans-serif" font-weight="bold" font-size="32" fill="#000">80</text>
<text x="275.3" y="570.5" font-family="'Liberation Sans', sans-serif" font-weight="bold" font-size="32" fill="#000">2<tspan font-family="'Liberation Serif', serif" font-weight="normal" stroke="#000" stroke-width="0.5" textLength="17.2" lengthAdjust="spacingAndGlyphs" dx="-1.3">θ</tspan><tspan dx="0.7"> (degree)</tspan></text>
<text transform="translate(24.1,247.2) rotate(-90)" text-anchor="middle" font-family="'Liberation Sans', sans-serif" font-weight="bold" font-size="32" fill="#000">Intensity (a.u)</text>
<text x="153.8" y="27.6" font-family="'DejaVu Sans', sans-serif" font-size="20.3" fill="#f41212" stroke="#f41212" stroke-width="0.95" stroke-linejoin="round" text-anchor="middle">✻</text>
<text transform="translate(164.7,26.5) scale(0.9569,1)" font-family="'Liberation Sans', sans-serif" font-weight="bold" font-size="23.41" fill="#000">- MoS<tspan dy="5.6" dx="0.5" font-size="15.0">2</tspan></text>
<polygon points="255.5,12.8 261.9,20.6 255.5,28.4 249.1,20.6" fill="#10c010"/>
<text transform="translate(266.0,26.6) scale(0.9569,1)" font-family="'Liberation Sans', sans-serif" font-weight="bold" font-size="23.41" fill="#000">- NiO</text>
<text transform="translate(343.3,27.1) scale(1.13,1)" font-family="'DejaVu Sans', sans-serif" font-size="21.6" fill="#8b1010" text-anchor="middle">♣</text>
<text transform="translate(354.3,26.6) scale(0.9569,1)" font-family="'Liberation Sans', sans-serif" font-weight="bold" font-size="23.41" fill="#000">- CuO</text>
<text x="86.6" y="95.4" font-family="'DejaVu Sans', sans-serif" font-size="20.3" fill="#f41212" stroke="#f41212" stroke-width="0.95" stroke-linejoin="round" text-anchor="middle">✻</text>
<text x="257.2" y="97.3" font-family="'DejaVu Sans', sans-serif" font-size="20.3" fill="#f41212" stroke="#f41212" stroke-width="0.95" stroke-linejoin="round" text-anchor="middle">✻</text>
<text transform="translate(276.9,106.4) scale(1.13,1)" font-family="'DejaVu Sans', sans-serif" font-size="21.6" fill="#8b1010" text-anchor="middle">♣</text>
<polygon points="287.3,106.6 292.3,112.7 287.3,118.8 282.3,112.7" fill="#10c010"/>
<text transform="translate(304.5,99.2) scale(1.13,1)" font-family="'DejaVu Sans', sans-serif" font-size="21.6" fill="#8b1010" text-anchor="middle">♣</text>
<polygon points="341.1,46.7 348.9,56.2 341.1,65.7 333.3,56.2" fill="#10c010"/>
<text transform="translate(383.1,118.1) scale(1.13,1)" font-family="'DejaVu Sans', sans-serif" font-size="21.6" fill="#8b1010" text-anchor="middle">♣</text>
<text x="484.5" y="126.5" font-family="'DejaVu Sans', sans-serif" font-size="20.3" fill="#f41212" stroke="#f41212" stroke-width="0.95" stroke-linejoin="round" text-anchor="middle">✻</text>
<polygon points="516.5,101.0 524.3,110.5 516.5,120.0 508.7,110.5" fill="#10c010"/>
<text x="556.7" y="125.4" font-family="'DejaVu Sans', sans-serif" font-size="20.3" fill="#f41212" stroke="#f41212" stroke-width="0.95" stroke-linejoin="round" text-anchor="middle">✻</text>
<text x="574.3" y="131.8" font-family="'DejaVu Sans', sans-serif" font-size="20.3" fill="#f41212" stroke="#f41212" stroke-width="0.95" stroke-linejoin="round" text-anchor="middle">✻</text>
<text x="642.4" y="133.8" font-family="'DejaVu Sans', sans-serif" font-size="20.3" fill="#f41212" stroke="#f41212" stroke-width="0.95" stroke-linejoin="round" text-anchor="middle">✻</text>
<text x="83.7" y="186.5" font-family="'DejaVu Sans', sans-serif" font-size="20.3" fill="#f41212" stroke="#f41212" stroke-width="0.95" stroke-linejoin="round" text-anchor="middle">✻</text>
<text x="263.2" y="183.8" font-family="'DejaVu Sans', sans-serif" font-size="20.3" fill="#f41212" stroke="#f41212" stroke-width="0.95" stroke-linejoin="round" text-anchor="middle">✻</text>
<polygon points="287.7,184.2 295.3,193.9 287.7,203.6 280.1,193.9" fill="#10c010"/>
<polygon points="341.1,147.3 348.9,156.8 341.1,166.3 333.3,156.8" fill="#10c010"/>
<text x="486.6" y="212.3" font-family="'DejaVu Sans', sans-serif" font-size="20.3" fill="#f41212" stroke="#f41212" stroke-width="0.95" stroke-linejoin="round" text-anchor="middle">✻</text>
<polygon points="514.5,187.9 522.1,197.6 514.5,207.3 506.9,197.6" fill="#10c010"/>
<text x="557.4" y="205.8" font-family="'DejaVu Sans', sans-serif" font-size="20.3" fill="#f41212" stroke="#f41212" stroke-width="0.95" stroke-linejoin="round" text-anchor="middle">✻</text>
<text x="575.2" y="215.2" font-family="'DejaVu Sans', sans-serif" font-size="20.3" fill="#f41212" stroke="#f41212" stroke-width="0.95" stroke-linejoin="round" text-anchor="middle">✻</text>
<polygon points="626.0,199.6 633.6,209.3 626.0,219.0 618.4,209.3" fill="#10c010"/>
<text transform="translate(99.0,168.7) scale(0.9569,1)" font-family="'Liberation Sans', sans-serif" font-weight="bold" font-size="22.68" fill="#000">MoS<tspan dy="6.5" dx="0.5" font-size="14.5">2</tspan><tspan dy="-6.5" dx="1.3">-NiO-CuO</tspan></text>
<text transform="translate(110.5,248.9) scale(0.9569,1)" font-family="'Liberation Sans', sans-serif" font-weight="bold" font-size="21.95" fill="#000">MoS<tspan dy="6.3" dx="0.5" font-size="14.1">2</tspan><tspan dy="-6.3" dx="1.3">-NiO</tspan></text>
<text transform="translate(136.0,320.7) scale(0.9569,1)" font-family="'Liberation Sans', sans-serif" font-weight="bold" font-size="22.68" fill="#000">CuO</text>
<text transform="translate(136.6,403.9) scale(0.9569,1)" font-family="'Liberation Sans', sans-serif" font-weight="bold" font-size="22.68" fill="#000">NiO</text>
<text transform="translate(129.0,480.3) scale(0.9569,1)" font-family="'Liberation Sans', sans-serif" font-weight="bold" font-size="22.68" fill="#000">MoS<tspan dy="5.9" dx="0.5" font-size="14.5">2</tspan></text>
<text transform="translate(252.0,292.6) rotate(-90) scale(1.06,1)" font-family="'Liberation Sans', sans-serif" font-weight="bold" font-size="20" fill="#000">(110)</text>
<text transform="translate(279.7,282.4) rotate(-90) scale(1.06,1)" font-family="'Liberation Sans', sans-serif" font-weight="bold" font-size="20" fill="#000">(002)</text>
<text transform="translate(307.5,285.4) rotate(-90) scale(1.09,1)" font-family="'Liberation Sans', sans-serif" font-weight="bold" font-size="20" fill="#000">(111)</text>
<text transform="translate(393.2,291.3) rotate(-90) scale(1.005,1)" font-family="'Liberation Sans', sans-serif" font-weight="bold" font-size="20.6" fill="#000">(-202)</text>
<text transform="translate(509.8,292.9) rotate(-90) scale(1.06,1)" font-family="'Liberation Sans', sans-serif" font-weight="bold" font-size="20" fill="#000">(-113)</text>
<text transform="translate(556.4,293.3) rotate(-90) scale(1.06,1)" font-family="'Liberation Sans', sans-serif" font-weight="bold" font-size="20" fill="#000">(220)</text>
<text transform="translate(624.5,293.3) rotate(-90) scale(1.06,1)" font-family="'Liberation Sans', sans-serif" font-weight="bold" font-size="20" fill="#000">(221)</text>
<text transform="translate(298.9,361.4) rotate(-90) scale(1.06,1)" font-family="'Liberation Sans', sans-serif" font-weight="bold" font-size="20.5" fill="#000">(111)</text>
<text transform="translate(349.9,349.6) rotate(-90) scale(1.06,1)" font-family="'Liberation Sans', sans-serif" font-weight="bold" font-size="19.5" fill="#000">(200)</text>
<text transform="translate(525.0,367.6) rotate(-90) scale(1.0,1)" font-family="'Liberation Sans', sans-serif" font-weight="bold" font-size="18.2" fill="#000">(220)</text>
<text transform="translate(634.4,375.0) rotate(-90) scale(1.06,1)" font-family="'Liberation Sans', sans-serif" font-weight="bold" font-size="21" fill="#000">(311)</text>
<text transform="translate(88.4,442.2) rotate(-90) scale(1.06,1)" font-family="'Liberation Sans', sans-serif" font-weight="bold" font-size="20" fill="#000">(002)</text>
<text transform="translate(259.4,431.2) rotate(-90) scale(1.09,1)" font-family="'Liberation Sans', sans-serif" font-weight="bold" font-size="19" fill="#000">(101)</text>
<text transform="translate(321.4,442.5) rotate(-90) scale(1.07,1)" font-family="'Liberation Sans', sans-serif" font-weight="bold" font-size="19.3" fill="#000">(103)</text>
<text transform="translate(485.6,443.8) rotate(-90) scale(0.975,1)" font-family="'Liberation Sans', sans-serif" font-weight="bold" font-size="20.4" fill="#000">(008)</text>
<text x="599.0" y="446.0" font-family="'Liberation Sans', sans-serif" font-weight="bold" font-size="18" fill="#000">(116)</text>
<text x="665.2" y="316.8" text-anchor="end" font-family="'Liberation Sans', sans-serif" font-size="17.55" fill="#000">JCPDS Card <tspan font-weight="bold" fill="#e8117b">-01-089-5897</tspan></text>
<text x="665.2" y="399.0" text-anchor="end" font-family="'Liberation Sans', sans-serif" font-size="17.66" fill="#000">JCPDS Card <tspan font-weight="bold" fill="#e8117b">-78-0643</tspan></text>
<text x="663.9" y="483.4" text-anchor="end" font-family="'Liberation Sans', sans-serif" font-size="17.75" fill="#000">JCPDS Card <tspan font-weight="bold" fill="#e8117b">-37-1492</tspan></text>
</svg>
</body></html>
